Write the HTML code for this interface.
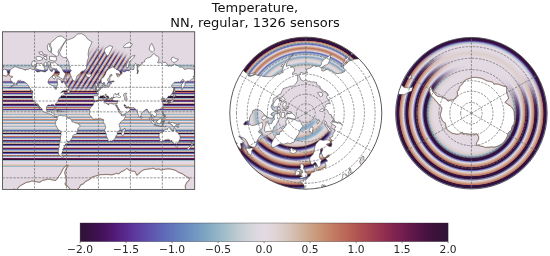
<!DOCTYPE html>
<html><head><meta charset="utf-8"><style>
html,body{margin:0;padding:0;background:#fff;width:550px;height:256px;overflow:hidden}
svg{display:block}
</style></head><body>
<svg width="550" height="256" viewBox="0 0 550 256">
<defs>
<clipPath id="cm"><rect x="2.5" y="31.2" width="192.3" height="158"/></clipPath>
<clipPath id="cn"><circle cx="305.80" cy="113.15" r="76.00"/></clipPath>
<clipPath id="cs"><circle cx="471.40" cy="113.20" r="75.75"/></clipPath>
<linearGradient id="gcb" x1="0" y1="0" x2="1" y2="0"><stop offset="0.0000" stop-color="#301437"/><stop offset="0.0156" stop-color="#33113d"/><stop offset="0.0312" stop-color="#381145"/><stop offset="0.0469" stop-color="#3e1150"/><stop offset="0.0625" stop-color="#45135c"/><stop offset="0.0781" stop-color="#4c1669"/><stop offset="0.0938" stop-color="#511b77"/><stop offset="0.1094" stop-color="#562284"/><stop offset="0.1250" stop-color="#592a8f"/><stop offset="0.1406" stop-color="#5c3499"/><stop offset="0.1562" stop-color="#5d3da1"/><stop offset="0.1719" stop-color="#5e47a7"/><stop offset="0.1875" stop-color="#5e51ad"/><stop offset="0.2031" stop-color="#5f5ab1"/><stop offset="0.2188" stop-color="#5f64b5"/><stop offset="0.2344" stop-color="#606db8"/><stop offset="0.2500" stop-color="#6276ba"/><stop offset="0.2656" stop-color="#647ebc"/><stop offset="0.2812" stop-color="#6887be"/><stop offset="0.2969" stop-color="#6c8fbf"/><stop offset="0.3125" stop-color="#7297c1"/><stop offset="0.3281" stop-color="#799fc2"/><stop offset="0.3438" stop-color="#81a6c3"/><stop offset="0.3594" stop-color="#8aaec5"/><stop offset="0.3750" stop-color="#95b5c7"/><stop offset="0.3906" stop-color="#a0bcc9"/><stop offset="0.4062" stop-color="#acc2cc"/><stop offset="0.4219" stop-color="#b8c9d0"/><stop offset="0.4375" stop-color="#c4ced4"/><stop offset="0.4531" stop-color="#ced3d9"/><stop offset="0.4688" stop-color="#d7d7dd"/><stop offset="0.4844" stop-color="#ded9e1"/><stop offset="0.5000" stop-color="#e2d9e2"/><stop offset="0.5156" stop-color="#e1d8dd"/><stop offset="0.5312" stop-color="#dfd4d6"/><stop offset="0.5469" stop-color="#dccecb"/><stop offset="0.5625" stop-color="#d8c7be"/><stop offset="0.5781" stop-color="#d5bfb1"/><stop offset="0.5938" stop-color="#d1b6a3"/><stop offset="0.6094" stop-color="#cfad96"/><stop offset="0.6250" stop-color="#cca389"/><stop offset="0.6406" stop-color="#ca9a7d"/><stop offset="0.6562" stop-color="#c89073"/><stop offset="0.6719" stop-color="#c5866a"/><stop offset="0.6875" stop-color="#c27c63"/><stop offset="0.7031" stop-color="#bf725d"/><stop offset="0.7188" stop-color="#bb6958"/><stop offset="0.7344" stop-color="#b75f55"/><stop offset="0.7500" stop-color="#b25652"/><stop offset="0.7656" stop-color="#ac4d51"/><stop offset="0.7812" stop-color="#a64550"/><stop offset="0.7969" stop-color="#a03d50"/><stop offset="0.8125" stop-color="#983550"/><stop offset="0.8281" stop-color="#902e50"/><stop offset="0.8438" stop-color="#872750"/><stop offset="0.8594" stop-color="#7e2250"/><stop offset="0.8750" stop-color="#741e4f"/><stop offset="0.8906" stop-color="#691a4d"/><stop offset="0.9062" stop-color="#5f174a"/><stop offset="0.9219" stop-color="#541546"/><stop offset="0.9375" stop-color="#4a1342"/><stop offset="0.9531" stop-color="#41123d"/><stop offset="0.9688" stop-color="#3a113a"/><stop offset="0.9844" stop-color="#341238"/><stop offset="1.0000" stop-color="#2f1436"/></linearGradient>
<linearGradient id="gmP" gradientUnits="userSpaceOnUse" x1="0" y1="31.00" x2="0" y2="190.00"><stop offset="0.0000" stop-color="#e2d9e2"/><stop offset="0.2044" stop-color="#e2d9e2"/><stop offset="0.2201" stop-color="#9ab8c8"/><stop offset="0.2358" stop-color="#dccecb"/><stop offset="0.2484" stop-color="#5f65b5"/><stop offset="0.2597" stop-color="#33113d"/><stop offset="0.2704" stop-color="#bd6e5a"/><stop offset="0.2799" stop-color="#ceac94"/><stop offset="0.2893" stop-color="#e2d9e2"/><stop offset="0.2987" stop-color="#e2d9e2"/><stop offset="0.3113" stop-color="#dccecb"/><stop offset="0.3208" stop-color="#5a2e93"/><stop offset="0.3302" stop-color="#9ab8c8"/><stop offset="0.3343" stop-color="#e2d9e2"/><stop offset="0.3387" stop-color="#e2d9e2"/><stop offset="0.3406" stop-color="#9ab8c8"/><stop offset="0.3450" stop-color="#9ab8c8"/><stop offset="0.3469" stop-color="#dccecb"/><stop offset="0.3513" stop-color="#dccecb"/><stop offset="0.3531" stop-color="#5f65b5"/><stop offset="0.3575" stop-color="#5f65b5"/><stop offset="0.3594" stop-color="#9ab8c8"/><stop offset="0.3638" stop-color="#9ab8c8"/><stop offset="0.3657" stop-color="#e2d9e2"/><stop offset="0.3701" stop-color="#e2d9e2"/><stop offset="0.3720" stop-color="#ceac94"/><stop offset="0.3764" stop-color="#ceac94"/><stop offset="0.3783" stop-color="#33113d"/><stop offset="0.3827" stop-color="#33113d"/><stop offset="0.3846" stop-color="#bd6e5a"/><stop offset="0.3890" stop-color="#bd6e5a"/><stop offset="0.3909" stop-color="#5a2e93"/><stop offset="0.3953" stop-color="#5a2e93"/><stop offset="0.3972" stop-color="#9ab8c8"/><stop offset="0.4016" stop-color="#9ab8c8"/><stop offset="0.4035" stop-color="#dccecb"/><stop offset="0.4079" stop-color="#dccecb"/><stop offset="0.4097" stop-color="#33113d"/><stop offset="0.4142" stop-color="#33113d"/><stop offset="0.4160" stop-color="#33113d"/><stop offset="0.4204" stop-color="#33113d"/><stop offset="0.4223" stop-color="#9ab8c8"/><stop offset="0.4267" stop-color="#9ab8c8"/><stop offset="0.4286" stop-color="#ceac94"/><stop offset="0.4330" stop-color="#ceac94"/><stop offset="0.4349" stop-color="#6b1b4d"/><stop offset="0.4393" stop-color="#6b1b4d"/><stop offset="0.4412" stop-color="#5a2e93"/><stop offset="0.4456" stop-color="#5a2e93"/><stop offset="0.4475" stop-color="#e2d9e2"/><stop offset="0.4519" stop-color="#e2d9e2"/><stop offset="0.4538" stop-color="#ceac94"/><stop offset="0.4582" stop-color="#ceac94"/><stop offset="0.4601" stop-color="#33113d"/><stop offset="0.4645" stop-color="#33113d"/><stop offset="0.4664" stop-color="#5a2e93"/><stop offset="0.4708" stop-color="#5a2e93"/><stop offset="0.4726" stop-color="#9ab8c8"/><stop offset="0.4770" stop-color="#9ab8c8"/><stop offset="0.4789" stop-color="#bd6e5a"/><stop offset="0.4833" stop-color="#bd6e5a"/><stop offset="0.4852" stop-color="#d3b9a8"/><stop offset="0.4896" stop-color="#d3b9a8"/><stop offset="0.4915" stop-color="#5a2e93"/><stop offset="0.4959" stop-color="#5a2e93"/><stop offset="0.4978" stop-color="#9ab8c8"/><stop offset="0.5022" stop-color="#9ab8c8"/><stop offset="0.5041" stop-color="#dccecb"/><stop offset="0.5085" stop-color="#dccecb"/><stop offset="0.5104" stop-color="#e2d9e2"/><stop offset="0.5148" stop-color="#e2d9e2"/><stop offset="0.5167" stop-color="#dccecb"/><stop offset="0.5211" stop-color="#dccecb"/><stop offset="0.5230" stop-color="#9ab8c8"/><stop offset="0.5274" stop-color="#9ab8c8"/><stop offset="0.5292" stop-color="#e2d9e2"/><stop offset="0.5336" stop-color="#e2d9e2"/><stop offset="0.5355" stop-color="#d3b9a8"/><stop offset="0.5399" stop-color="#d3b9a8"/><stop offset="0.5418" stop-color="#81a6c3"/><stop offset="0.5462" stop-color="#81a6c3"/><stop offset="0.5481" stop-color="#e2d9e2"/><stop offset="0.5525" stop-color="#e2d9e2"/><stop offset="0.5544" stop-color="#c68b6e"/><stop offset="0.5588" stop-color="#c68b6e"/><stop offset="0.5607" stop-color="#81a6c3"/><stop offset="0.5651" stop-color="#81a6c3"/><stop offset="0.5670" stop-color="#e2d9e2"/><stop offset="0.5714" stop-color="#e2d9e2"/><stop offset="0.5733" stop-color="#ceac94"/><stop offset="0.5777" stop-color="#ceac94"/><stop offset="0.5796" stop-color="#81a6c3"/><stop offset="0.5840" stop-color="#81a6c3"/><stop offset="0.5858" stop-color="#e2d9e2"/><stop offset="0.5903" stop-color="#e2d9e2"/><stop offset="0.5921" stop-color="#dccecb"/><stop offset="0.5965" stop-color="#dccecb"/><stop offset="0.5984" stop-color="#9ab8c8"/><stop offset="0.6028" stop-color="#9ab8c8"/><stop offset="0.6047" stop-color="#e2d9e2"/><stop offset="0.6091" stop-color="#e2d9e2"/><stop offset="0.6110" stop-color="#dccecb"/><stop offset="0.6154" stop-color="#dccecb"/><stop offset="0.6173" stop-color="#9ab8c8"/><stop offset="0.6217" stop-color="#9ab8c8"/><stop offset="0.6236" stop-color="#5f65b5"/><stop offset="0.6280" stop-color="#5f65b5"/><stop offset="0.6299" stop-color="#9ab8c8"/><stop offset="0.6343" stop-color="#9ab8c8"/><stop offset="0.6362" stop-color="#ceac94"/><stop offset="0.6406" stop-color="#ceac94"/><stop offset="0.6425" stop-color="#33113d"/><stop offset="0.6469" stop-color="#33113d"/><stop offset="0.6487" stop-color="#9ab8c8"/><stop offset="0.6531" stop-color="#9ab8c8"/><stop offset="0.6550" stop-color="#e2d9e2"/><stop offset="0.6594" stop-color="#e2d9e2"/><stop offset="0.6613" stop-color="#bd6e5a"/><stop offset="0.6657" stop-color="#bd6e5a"/><stop offset="0.6676" stop-color="#5f65b5"/><stop offset="0.6720" stop-color="#5f65b5"/><stop offset="0.6739" stop-color="#9ab8c8"/><stop offset="0.6783" stop-color="#9ab8c8"/><stop offset="0.6802" stop-color="#dccecb"/><stop offset="0.6846" stop-color="#dccecb"/><stop offset="0.6865" stop-color="#6b1b4d"/><stop offset="0.6909" stop-color="#6b1b4d"/><stop offset="0.6928" stop-color="#5f65b5"/><stop offset="0.6972" stop-color="#5f65b5"/><stop offset="0.6991" stop-color="#9ab8c8"/><stop offset="0.7035" stop-color="#9ab8c8"/><stop offset="0.7053" stop-color="#ceac94"/><stop offset="0.7097" stop-color="#ceac94"/><stop offset="0.7116" stop-color="#33113d"/><stop offset="0.7160" stop-color="#33113d"/><stop offset="0.7179" stop-color="#5f65b5"/><stop offset="0.7223" stop-color="#5f65b5"/><stop offset="0.7242" stop-color="#e2d9e2"/><stop offset="0.7286" stop-color="#e2d9e2"/><stop offset="0.7305" stop-color="#ceac94"/><stop offset="0.7349" stop-color="#ceac94"/><stop offset="0.7368" stop-color="#6b1b4d"/><stop offset="0.7412" stop-color="#6b1b4d"/><stop offset="0.7431" stop-color="#5f65b5"/><stop offset="0.7475" stop-color="#5f65b5"/><stop offset="0.7494" stop-color="#9ab8c8"/><stop offset="0.7538" stop-color="#9ab8c8"/><stop offset="0.7557" stop-color="#ceac94"/><stop offset="0.7601" stop-color="#ceac94"/><stop offset="0.7619" stop-color="#33113d"/><stop offset="0.7664" stop-color="#33113d"/><stop offset="0.7682" stop-color="#5f65b5"/><stop offset="0.7726" stop-color="#5f65b5"/><stop offset="0.7745" stop-color="#e2d9e2"/><stop offset="0.7789" stop-color="#e2d9e2"/><stop offset="0.7808" stop-color="#bd6e5a"/><stop offset="0.7852" stop-color="#bd6e5a"/><stop offset="0.7871" stop-color="#81a6c3"/><stop offset="0.7915" stop-color="#81a6c3"/><stop offset="0.7934" stop-color="#e2d9e2"/><stop offset="0.7978" stop-color="#e2d9e2"/><stop offset="0.7997" stop-color="#6b1b4d"/><stop offset="0.8041" stop-color="#6b1b4d"/><stop offset="0.8060" stop-color="#33113d"/><stop offset="0.8104" stop-color="#33113d"/><stop offset="0.8123" stop-color="#9ab8c8"/><stop offset="0.8167" stop-color="#9ab8c8"/><stop offset="0.8186" stop-color="#e2d9e2"/><stop offset="0.8230" stop-color="#e2d9e2"/><stop offset="0.8248" stop-color="#e2d9e2"/><stop offset="0.8292" stop-color="#e2d9e2"/><stop offset="0.8311" stop-color="#e2d9e2"/><stop offset="0.8355" stop-color="#e2d9e2"/><stop offset="0.8374" stop-color="#dccecb"/><stop offset="0.8418" stop-color="#dccecb"/><stop offset="0.8437" stop-color="#d3b9a8"/><stop offset="0.8481" stop-color="#d3b9a8"/><stop offset="0.8500" stop-color="#9ab8c8"/><stop offset="0.8544" stop-color="#9ab8c8"/><stop offset="0.8563" stop-color="#e2d9e2"/><stop offset="0.8607" stop-color="#e2d9e2"/><stop offset="0.8679" stop-color="#e2d9e2"/><stop offset="1.0000" stop-color="#e2d9e2"/></linearGradient>
<linearGradient id="gmI" gradientUnits="userSpaceOnUse" x1="0" y1="31.00" x2="0" y2="190.00"><stop offset="0.0000" stop-color="#e2d9e2"/><stop offset="0.2044" stop-color="#e2d9e2"/><stop offset="0.2201" stop-color="#9ab8c8"/><stop offset="0.2358" stop-color="#dccecb"/><stop offset="0.2484" stop-color="#5f65b5"/><stop offset="0.2597" stop-color="#33113d"/><stop offset="0.2704" stop-color="#bd6e5a"/><stop offset="0.2799" stop-color="#ceac94"/><stop offset="0.2893" stop-color="#e2d9e2"/><stop offset="0.2987" stop-color="#e2d9e2"/><stop offset="0.3113" stop-color="#dccecb"/><stop offset="0.3208" stop-color="#5a2e93"/><stop offset="0.3302" stop-color="#9ab8c8"/><stop offset="0.3343" stop-color="#e2d9e2"/><stop offset="0.3387" stop-color="#e2d9e2"/><stop offset="0.3406" stop-color="#9ab8c8"/><stop offset="0.3450" stop-color="#9ab8c8"/><stop offset="0.3469" stop-color="#dccecb"/><stop offset="0.3513" stop-color="#dccecb"/><stop offset="0.3531" stop-color="#5f65b5"/><stop offset="0.3575" stop-color="#5f65b5"/><stop offset="0.3594" stop-color="#9ab8c8"/><stop offset="0.3638" stop-color="#9ab8c8"/><stop offset="0.3657" stop-color="#e2d9e2"/><stop offset="0.3701" stop-color="#e2d9e2"/><stop offset="0.3720" stop-color="#ceac94"/><stop offset="0.3764" stop-color="#ceac94"/><stop offset="0.3783" stop-color="#33113d"/><stop offset="0.3827" stop-color="#33113d"/><stop offset="0.3846" stop-color="#bd6e5a"/><stop offset="0.3890" stop-color="#bd6e5a"/><stop offset="0.3909" stop-color="#5a2e93"/><stop offset="0.3953" stop-color="#5a2e93"/><stop offset="0.3972" stop-color="#9ab8c8"/><stop offset="0.4016" stop-color="#9ab8c8"/><stop offset="0.4035" stop-color="#dccecb"/><stop offset="0.4079" stop-color="#dccecb"/><stop offset="0.4097" stop-color="#33113d"/><stop offset="0.4142" stop-color="#33113d"/><stop offset="0.4160" stop-color="#33113d"/><stop offset="0.4204" stop-color="#33113d"/><stop offset="0.4223" stop-color="#9ab8c8"/><stop offset="0.4267" stop-color="#9ab8c8"/><stop offset="0.4286" stop-color="#ceac94"/><stop offset="0.4330" stop-color="#ceac94"/><stop offset="0.4349" stop-color="#6b1b4d"/><stop offset="0.4393" stop-color="#6b1b4d"/><stop offset="0.4412" stop-color="#5a2e93"/><stop offset="0.4456" stop-color="#5a2e93"/><stop offset="0.4475" stop-color="#e2d9e2"/><stop offset="0.4519" stop-color="#e2d9e2"/><stop offset="0.4538" stop-color="#ceac94"/><stop offset="0.4582" stop-color="#ceac94"/><stop offset="0.4601" stop-color="#33113d"/><stop offset="0.4645" stop-color="#33113d"/><stop offset="0.4664" stop-color="#5a2e93"/><stop offset="0.4708" stop-color="#5a2e93"/><stop offset="0.4726" stop-color="#9ab8c8"/><stop offset="0.4770" stop-color="#9ab8c8"/><stop offset="0.4789" stop-color="#bd6e5a"/><stop offset="0.4833" stop-color="#bd6e5a"/><stop offset="0.4852" stop-color="#d3b9a8"/><stop offset="0.4896" stop-color="#d3b9a8"/><stop offset="0.4915" stop-color="#5a2e93"/><stop offset="0.4959" stop-color="#5a2e93"/><stop offset="0.4978" stop-color="#9ab8c8"/><stop offset="0.5022" stop-color="#9ab8c8"/><stop offset="0.5041" stop-color="#dccecb"/><stop offset="0.5085" stop-color="#dccecb"/><stop offset="0.5104" stop-color="#e2d9e2"/><stop offset="0.5148" stop-color="#e2d9e2"/><stop offset="0.5167" stop-color="#dccecb"/><stop offset="0.5211" stop-color="#dccecb"/><stop offset="0.5230" stop-color="#9ab8c8"/><stop offset="0.5274" stop-color="#9ab8c8"/><stop offset="0.5292" stop-color="#e2d9e2"/><stop offset="0.5336" stop-color="#e2d9e2"/><stop offset="0.5355" stop-color="#d3b9a8"/><stop offset="0.5399" stop-color="#d3b9a8"/><stop offset="0.5418" stop-color="#81a6c3"/><stop offset="0.5462" stop-color="#81a6c3"/><stop offset="0.5481" stop-color="#e2d9e2"/><stop offset="0.5525" stop-color="#e2d9e2"/><stop offset="0.5544" stop-color="#c68b6e"/><stop offset="0.5588" stop-color="#c68b6e"/><stop offset="0.5607" stop-color="#81a6c3"/><stop offset="0.5651" stop-color="#81a6c3"/><stop offset="0.5670" stop-color="#e2d9e2"/><stop offset="0.5714" stop-color="#e2d9e2"/><stop offset="0.5733" stop-color="#ceac94"/><stop offset="0.5777" stop-color="#ceac94"/><stop offset="0.5796" stop-color="#81a6c3"/><stop offset="0.5840" stop-color="#81a6c3"/><stop offset="0.5858" stop-color="#e2d9e2"/><stop offset="0.5903" stop-color="#e2d9e2"/><stop offset="0.5921" stop-color="#dccecb"/><stop offset="0.5965" stop-color="#dccecb"/><stop offset="0.5984" stop-color="#9ab8c8"/><stop offset="0.6028" stop-color="#9ab8c8"/><stop offset="0.6047" stop-color="#e2d9e2"/><stop offset="0.6091" stop-color="#e2d9e2"/><stop offset="0.6110" stop-color="#dccecb"/><stop offset="0.6154" stop-color="#dccecb"/><stop offset="0.6173" stop-color="#9ab8c8"/><stop offset="0.6217" stop-color="#9ab8c8"/><stop offset="0.6236" stop-color="#5f65b5"/><stop offset="0.6280" stop-color="#5f65b5"/><stop offset="0.6299" stop-color="#9ab8c8"/><stop offset="0.6343" stop-color="#9ab8c8"/><stop offset="0.6362" stop-color="#ceac94"/><stop offset="0.6406" stop-color="#ceac94"/><stop offset="0.6425" stop-color="#33113d"/><stop offset="0.6469" stop-color="#33113d"/><stop offset="0.6487" stop-color="#9ab8c8"/><stop offset="0.6531" stop-color="#9ab8c8"/><stop offset="0.6550" stop-color="#e2d9e2"/><stop offset="0.6594" stop-color="#e2d9e2"/><stop offset="0.6613" stop-color="#bd6e5a"/><stop offset="0.6657" stop-color="#bd6e5a"/><stop offset="0.6676" stop-color="#5f65b5"/><stop offset="0.6720" stop-color="#5f65b5"/><stop offset="0.6739" stop-color="#9ab8c8"/><stop offset="0.6783" stop-color="#9ab8c8"/><stop offset="0.6802" stop-color="#dccecb"/><stop offset="0.6846" stop-color="#dccecb"/><stop offset="0.6865" stop-color="#6b1b4d"/><stop offset="0.6909" stop-color="#6b1b4d"/><stop offset="0.6928" stop-color="#5f65b5"/><stop offset="0.6972" stop-color="#5f65b5"/><stop offset="0.6991" stop-color="#9ab8c8"/><stop offset="0.7035" stop-color="#9ab8c8"/><stop offset="0.7053" stop-color="#ceac94"/><stop offset="0.7097" stop-color="#ceac94"/><stop offset="0.7116" stop-color="#33113d"/><stop offset="0.7160" stop-color="#33113d"/><stop offset="0.7179" stop-color="#5f65b5"/><stop offset="0.7223" stop-color="#5f65b5"/><stop offset="0.7242" stop-color="#e2d9e2"/><stop offset="0.7286" stop-color="#e2d9e2"/><stop offset="0.7305" stop-color="#ceac94"/><stop offset="0.7349" stop-color="#ceac94"/><stop offset="0.7368" stop-color="#6b1b4d"/><stop offset="0.7412" stop-color="#6b1b4d"/><stop offset="0.7431" stop-color="#5f65b5"/><stop offset="0.7475" stop-color="#5f65b5"/><stop offset="0.7494" stop-color="#9ab8c8"/><stop offset="0.7538" stop-color="#9ab8c8"/><stop offset="0.7557" stop-color="#ceac94"/><stop offset="0.7601" stop-color="#ceac94"/><stop offset="0.7619" stop-color="#33113d"/><stop offset="0.7664" stop-color="#33113d"/><stop offset="0.7682" stop-color="#5f65b5"/><stop offset="0.7726" stop-color="#5f65b5"/><stop offset="0.7745" stop-color="#e2d9e2"/><stop offset="0.7789" stop-color="#e2d9e2"/><stop offset="0.7808" stop-color="#bd6e5a"/><stop offset="0.7852" stop-color="#bd6e5a"/><stop offset="0.7871" stop-color="#81a6c3"/><stop offset="0.7915" stop-color="#81a6c3"/><stop offset="0.7934" stop-color="#e2d9e2"/><stop offset="0.7978" stop-color="#e2d9e2"/><stop offset="0.7997" stop-color="#6b1b4d"/><stop offset="0.8041" stop-color="#6b1b4d"/><stop offset="0.8060" stop-color="#33113d"/><stop offset="0.8104" stop-color="#33113d"/><stop offset="0.8123" stop-color="#9ab8c8"/><stop offset="0.8167" stop-color="#9ab8c8"/><stop offset="0.8186" stop-color="#e2d9e2"/><stop offset="0.8230" stop-color="#e2d9e2"/><stop offset="0.8248" stop-color="#e2d9e2"/><stop offset="0.8292" stop-color="#e2d9e2"/><stop offset="0.8311" stop-color="#e2d9e2"/><stop offset="0.8355" stop-color="#e2d9e2"/><stop offset="0.8374" stop-color="#dccecb"/><stop offset="0.8418" stop-color="#dccecb"/><stop offset="0.8437" stop-color="#d3b9a8"/><stop offset="0.8481" stop-color="#d3b9a8"/><stop offset="0.8500" stop-color="#9ab8c8"/><stop offset="0.8544" stop-color="#9ab8c8"/><stop offset="0.8563" stop-color="#e2d9e2"/><stop offset="0.8607" stop-color="#e2d9e2"/><stop offset="0.8679" stop-color="#e2d9e2"/><stop offset="1.0000" stop-color="#e2d9e2"/></linearGradient>
<linearGradient id="gna" gradientUnits="userSpaceOnUse" x1="0" y1="0" x2="4.0" y2="0" spreadMethod="repeat" gradientTransform="rotate(32)"><stop offset="0.0000" stop-color="#33113d"/><stop offset="0.0800" stop-color="#33113d"/><stop offset="0.2500" stop-color="#5f65b5"/><stop offset="0.5000" stop-color="#e2d9e2"/><stop offset="0.7200" stop-color="#ceac94"/><stop offset="0.8800" stop-color="#bd6e5a"/><stop offset="1.0000" stop-color="#341238"/></linearGradient>
<filter id="fb3" x="-20%" y="-20%" width="140%" height="140%"><feGaussianBlur stdDeviation="2.5"/></filter>
<mask id="mna" maskUnits="userSpaceOnUse" x="0" y="0" width="550" height="256"><path d="M67.6 89.1L74.5 89.1L82.5 88.6L90.5 88.2L95.8 87.8L98.4 86.4L101.1 83.5L106.4 74.4L114.4 70.2L122.4 70.2L127.7 67.1L127.7 57.6L119.7 54.1L109.1 51.6L98.4 48.8L90.5 54.1L87.3 63.6L84.1 71.6L79.8 75.6L74.5 79.2L69.2 76.9L65.4 74.4L63.3 81.4L65.4 86.4Z" fill="#fff" filter="url(#fb3)"/></mask>
<radialGradient id="gnP" gradientUnits="userSpaceOnUse" cx="305.80" cy="113.15" r="78.00" fx="305.80" fy="113.15"><stop offset="0.0000" stop-color="#e2d9e2"/><stop offset="0.5641" stop-color="#e2d9e2"/><stop offset="0.6026" stop-color="#dccecb"/><stop offset="0.6346" stop-color="#9ab8c8"/><stop offset="0.6603" stop-color="#e2d9e2"/><stop offset="0.6923" stop-color="#dccecb"/><stop offset="0.7179" stop-color="#81a6c3"/><stop offset="0.7436" stop-color="#e2d9e2"/><stop offset="0.7628" stop-color="#9ab8c8"/><stop offset="0.7821" stop-color="#5f65b5"/><stop offset="0.7987" stop-color="#e2d9e2"/><stop offset="0.8141" stop-color="#ceac94"/><stop offset="0.8333" stop-color="#bd6e5a"/><stop offset="0.8500" stop-color="#ceac94"/><stop offset="0.8654" stop-color="#e2d9e2"/><stop offset="0.8846" stop-color="#5f65b5"/><stop offset="0.9000" stop-color="#9ab8c8"/><stop offset="0.9128" stop-color="#ceac94"/><stop offset="0.9256" stop-color="#bd6e5a"/><stop offset="0.9321" stop-color="#33113d"/><stop offset="0.9397" stop-color="#33113d"/><stop offset="0.9551" stop-color="#33113d"/><stop offset="0.9628" stop-color="#33113d"/><stop offset="0.9718" stop-color="#6b1b4d"/><stop offset="0.9872" stop-color="#bd6e5a"/></radialGradient>
<radialGradient id="gnA" gradientUnits="userSpaceOnUse" cx="295.80" cy="105.15" r="90.00" fx="295.80" fy="105.15"><stop offset="0.0000" stop-color="#e2d9e2"/><stop offset="0.1889" stop-color="#e2d9e2"/><stop offset="0.2278" stop-color="#dccecb"/><stop offset="0.2667" stop-color="#81a6c3"/><stop offset="0.2878" stop-color="#9ab8c8"/><stop offset="0.3057" stop-color="#e2d9e2"/><stop offset="0.3300" stop-color="#dccecb"/><stop offset="0.3511" stop-color="#d3b9a8"/><stop offset="0.3722" stop-color="#81a6c3"/><stop offset="0.3933" stop-color="#9ab8c8"/><stop offset="0.4113" stop-color="#e2d9e2"/><stop offset="0.4356" stop-color="#dccecb"/><stop offset="0.4567" stop-color="#d3b9a8"/><stop offset="0.4722" stop-color="#33113d"/><stop offset="0.4833" stop-color="#33113d"/><stop offset="0.4989" stop-color="#5f65b5"/><stop offset="0.5168" stop-color="#e2d9e2"/><stop offset="0.5411" stop-color="#ceac94"/><stop offset="0.5622" stop-color="#bd6e5a"/><stop offset="0.5778" stop-color="#33113d"/><stop offset="0.5889" stop-color="#33113d"/><stop offset="0.6044" stop-color="#5f65b5"/><stop offset="0.6224" stop-color="#e2d9e2"/><stop offset="0.6467" stop-color="#ceac94"/><stop offset="0.6678" stop-color="#bd6e5a"/><stop offset="0.6833" stop-color="#33113d"/><stop offset="0.6944" stop-color="#33113d"/><stop offset="0.7100" stop-color="#5f65b5"/><stop offset="0.7279" stop-color="#e2d9e2"/><stop offset="0.7522" stop-color="#ceac94"/><stop offset="0.7733" stop-color="#bd6e5a"/><stop offset="0.7889" stop-color="#33113d"/><stop offset="0.8000" stop-color="#33113d"/><stop offset="0.8156" stop-color="#5f65b5"/><stop offset="0.8335" stop-color="#e2d9e2"/><stop offset="0.8578" stop-color="#ceac94"/><stop offset="0.8789" stop-color="#bd6e5a"/><stop offset="0.8944" stop-color="#33113d"/><stop offset="0.9056" stop-color="#33113d"/><stop offset="0.9211" stop-color="#5f65b5"/><stop offset="0.9391" stop-color="#e2d9e2"/><stop offset="0.9633" stop-color="#ceac94"/><stop offset="0.9844" stop-color="#bd6e5a"/><stop offset="1.0000" stop-color="#33113d"/><stop offset="1.0000" stop-color="#33113d"/></radialGradient>
<mask id="mnA" maskUnits="userSpaceOnUse" x="0" y="0" width="550" height="256"><path d="M305.80 113.15L206.21 170.65L209.36 175.78L212.77 180.74L216.44 185.52L220.34 190.09L224.49 194.46L228.86 198.61L233.43 202.51L238.21 206.18L243.17 209.59L248.30 212.74L253.60 215.61L259.03 218.20L264.59 220.50L270.27 222.51L276.04 224.22L281.89 225.63L287.81 226.73L293.78 227.51L299.78 227.98L305.80 228.14L311.82 227.98L317.82 227.51L323.79 226.73L329.71 225.63L335.56 224.22L341.33 222.51L347.01 220.50L352.57 218.20L358.00 215.61L363.30 212.74L368.43 209.59L373.39 206.18L378.17 202.51L382.74 198.61L387.11 194.46L391.26 190.09L395.16 185.52L396.41 183.95Z" fill="#fff" filter="url(#fb3)"/></mask>
<radialGradient id="gnL" gradientUnits="userSpaceOnUse" cx="305.80" cy="113.15" r="78.00" fx="305.80" fy="113.15"><stop offset="0.0000" stop-color="#e2d9e2"/><stop offset="0.3846" stop-color="#e2d9e2"/><stop offset="0.4359" stop-color="#9ab8c8"/><stop offset="0.4872" stop-color="#e2d9e2"/><stop offset="0.5385" stop-color="#dccecb"/><stop offset="0.5897" stop-color="#e2d9e2"/><stop offset="0.6410" stop-color="#9ab8c8"/><stop offset="0.6795" stop-color="#dccecb"/><stop offset="0.7179" stop-color="#e2d9e2"/><stop offset="0.7564" stop-color="#5f65b5"/><stop offset="0.7833" stop-color="#33113d"/><stop offset="0.7936" stop-color="#33113d"/><stop offset="0.8141" stop-color="#bd6e5a"/><stop offset="0.8397" stop-color="#ceac94"/><stop offset="0.8654" stop-color="#e2d9e2"/><stop offset="0.8910" stop-color="#5f65b5"/><stop offset="0.9115" stop-color="#33113d"/><stop offset="0.9218" stop-color="#33113d"/><stop offset="0.9423" stop-color="#6b1b4d"/><stop offset="0.9679" stop-color="#bd6e5a"/><stop offset="0.9872" stop-color="#ceac94"/></radialGradient>
<mask id="mnL" maskUnits="userSpaceOnUse" x="0" y="0" width="550" height="256"><path d="M305.80 113.15L194.73 83.39L193.32 89.24L192.22 95.16L191.44 101.13L190.97 107.13L190.81 113.15L190.97 119.17L191.44 125.17L192.22 131.14L193.32 137.06L194.73 142.91L196.44 148.68L198.45 154.36L200.75 159.92L203.34 165.35L204.27 167.14Z" fill="#fff" filter="url(#fb3)"/></mask>
<radialGradient id="gsB" gradientUnits="userSpaceOnUse" cx="471.40" cy="113.20" r="77.00" fx="471.40" fy="113.20"><stop offset="0.0000" stop-color="#e2d9e2"/><stop offset="0.4935" stop-color="#e2d9e2"/><stop offset="0.5325" stop-color="#dccecb"/><stop offset="0.5649" stop-color="#9ab8c8"/><stop offset="0.5896" stop-color="#33113d"/><stop offset="0.6182" stop-color="#33113d"/><stop offset="0.6273" stop-color="#5f65b5"/><stop offset="0.6471" stop-color="#e2d9e2"/><stop offset="0.6740" stop-color="#ceac94"/><stop offset="0.6974" stop-color="#bd6e5a"/><stop offset="0.7065" stop-color="#33113d"/><stop offset="0.7351" stop-color="#33113d"/><stop offset="0.7442" stop-color="#5f65b5"/><stop offset="0.7640" stop-color="#e2d9e2"/><stop offset="0.7909" stop-color="#ceac94"/><stop offset="0.8143" stop-color="#bd6e5a"/><stop offset="0.8234" stop-color="#33113d"/><stop offset="0.8519" stop-color="#33113d"/><stop offset="0.8610" stop-color="#5f65b5"/><stop offset="0.8809" stop-color="#e2d9e2"/><stop offset="0.9078" stop-color="#ceac94"/><stop offset="0.9312" stop-color="#bd6e5a"/><stop offset="0.9403" stop-color="#33113d"/><stop offset="0.9688" stop-color="#33113d"/><stop offset="0.9779" stop-color="#5f65b5"/><stop offset="0.9978" stop-color="#e2d9e2"/><stop offset="1.0000" stop-color="#ceac94"/><stop offset="1.0000" stop-color="#bd6e5a"/><stop offset="1.0000" stop-color="#33113d"/><stop offset="1.0000" stop-color="#33113d"/></radialGradient>
<radialGradient id="gsP" gradientUnits="userSpaceOnUse" cx="471.40" cy="113.20" r="77.00" fx="471.40" fy="113.20"><stop offset="0.0000" stop-color="#e2d9e2"/><stop offset="0.7273" stop-color="#e2d9e2"/><stop offset="0.7792" stop-color="#dccecb"/><stop offset="0.8312" stop-color="#e2d9e2"/><stop offset="0.8961" stop-color="#e2d9e2"/><stop offset="0.9195" stop-color="#9ab8c8"/><stop offset="0.9377" stop-color="#5a2e93"/><stop offset="0.9494" stop-color="#33113d"/><stop offset="0.9571" stop-color="#33113d"/><stop offset="0.9727" stop-color="#33113d"/><stop offset="0.9805" stop-color="#33113d"/><stop offset="0.9909" stop-color="#6b1b4d"/></radialGradient>
<filter id="fb8" x="-30%" y="-30%" width="160%" height="160%"><feGaussianBlur stdDeviation="11"/></filter>
<mask id="msP" maskUnits="userSpaceOnUse" x="0" y="0" width="550" height="256"><path d="M471.40 113.20L395.32 22.53L400.17 18.68L405.22 15.08L410.44 11.75L415.83 8.70L421.38 5.93L427.06 3.46L432.87 1.29L438.78 -0.57L444.78 -2.12L450.85 -3.36L456.98 -4.27L463.14 -4.87L469.33 -5.14L475.53 -5.08L481.72 -4.71L487.87 -4.00L493.98 -2.98L500.03 -1.64L506.00 0.01L511.88 1.98L517.65 4.25L523.28 6.82L528.78 9.68L534.12 12.83L539.29 16.25L544.27 19.93L549.05 23.87L553.62 28.06L557.96 32.48L562.07 37.12L565.92 41.97L569.52 47.02L572.85 52.24L575.90 57.63L578.67 63.18L581.14 68.86L583.31 74.67L583.96 76.63Z" fill="#fff" filter="url(#fb8)"/></mask>
</defs>
<rect x="2.5" y="31.2" width="192.3" height="158" fill="url(#gmP)"/>
<rect x="109.10" y="31.2" width="85.70" height="158" fill="url(#gmI)"/>
<rect x="2.5" y="31.2" width="192.3" height="158" fill="url(#gna)" mask="url(#mna)" opacity="0.85"/>
<g clip-path="url(#cm)">
<path d="M2.6 191.1L7.9 191.4L11.7 190.8L14.3 189.1L15.9 191.1L18.6 187.4L20.7 185.6L23.9 183.9L26.6 182.4L29.2 182.1L31.9 181.1L34.5 181.5L37.2 182.1L39.9 182.4L42.5 180.5L45.2 180.0L47.9 179.2L50.5 179.6L53.2 180.3L55.9 180.5L57.4 178.7L59.0 176.1L60.4 174.2L62.0 171.3L62.8 169.5L63.8 167.8L65.2 166.7L67.0 165.4L68.1 165.6L67.3 166.7L66.2 168.2L65.5 169.8L64.9 171.3L64.6 173.3L65.3 175.3L65.9 177.8L66.0 180.5L65.7 182.4L64.9 183.5L65.4 185.2L67.0 185.6L68.6 187.9L70.8 189.8L74.0 190.1L77.1 189.8L79.3 187.9L80.9 184.7L83.5 184.1L85.1 181.9L87.8 180.5L89.9 179.4L92.1 177.3L94.2 176.5L96.3 176.0L98.4 175.2L101.1 174.7L103.8 174.7L106.4 174.5L109.1 174.7L111.8 175.0L114.4 174.2L116.0 173.6L117.6 173.6L118.7 174.2L119.7 173.0L121.3 171.9L123.5 170.9L125.1 170.0L126.7 168.6L127.7 169.2L129.3 170.5L130.9 171.0L133.1 171.3L134.7 171.4L135.5 172.7L136.0 173.9L136.7 175.3L137.6 175.2L138.4 173.8L139.5 173.5L140.5 172.0L141.8 171.1L143.7 170.0L145.3 169.5L146.9 169.5L148.5 169.1L150.1 169.1L151.7 168.6L153.3 168.3L155.4 169.4L157.0 169.4L158.6 169.0L160.2 169.9L161.8 170.2L163.4 169.6L165.5 169.2L167.7 169.1L169.8 169.1L171.4 169.4L173.0 169.8L174.6 170.2L176.2 170.9L177.8 172.1L179.4 172.7L181.0 173.5L182.6 173.9L183.9 175.3L185.0 175.8L186.3 176.6L187.9 177.5L189.0 177.8L189.2 179.2L188.7 180.5L187.9 181.1L187.1 181.9L186.3 183.1L185.5 184.7L185.1 186.7L185.5 188.8L186.3 190.1L187.1 191.1L189.0 191.1L191.6 191.6L194.3 191.1" fill="none" stroke="#c8886c" stroke-width="1.5" stroke-linejoin="round" stroke-opacity="0.7"/>
<path d="M9.0 74.9L10.1 70.3L12.2 68.3L15.0 66.6L17.5 67.4L18.6 68.0L21.2 68.5L23.4 69.3L25.5 70.2L26.6 69.4L28.2 69.3L30.3 68.3L32.4 69.6L34.5 69.7L37.2 71.9L39.9 71.6L40.9 70.9L43.1 71.6L45.2 71.9L46.3 70.9L47.6 70.2L48.4 66.2L49.5 68.7L50.5 70.9L52.1 71.6L53.2 69.4L54.8 69.4L55.1 71.6L53.7 74.4L52.1 76.3L50.5 77.5L48.9 79.2L48.1 81.4L48.1 82.5L49.2 84.3L50.5 84.5L51.6 85.4L53.2 86.1L54.6 86.4L54.8 88.4L55.9 89.7L56.4 89.1L56.4 86.8L57.4 85.4L57.6 83.5L57.2 80.9L56.9 78.9L58.5 78.9L60.1 79.8L61.2 80.3L61.4 82.5L62.2 83.0L63.0 82.5L63.8 81.1L64.6 83.0L65.4 84.5L66.2 85.9L67.8 87.3L68.6 88.6L67.8 89.5L66.5 90.6L64.4 90.6L63.0 90.8L62.0 91.4L60.6 93.2L61.7 92.4L63.8 91.7L64.1 92.5L63.8 93.6L65.7 94.1L66.0 94.6L64.6 95.0L63.5 95.8L63.3 94.9L62.5 95.1L61.2 95.8L60.8 96.4L61.1 96.9L60.6 97.3L59.2 97.8L59.0 98.3L58.6 99.1L58.4 99.7L58.0 100.4L58.2 101.5L57.7 101.9L56.9 102.5L56.3 103.0L55.3 103.9L55.2 104.8L55.6 105.9L55.9 107.0L55.6 107.7L55.2 107.7L54.9 107.0L54.4 106.1L54.4 105.5L53.7 104.8L53.0 105.0L52.4 104.6L51.1 104.7L50.9 105.3L50.3 105.4L49.5 105.1L48.4 105.1L47.6 105.6L46.7 106.3L46.6 107.4L46.4 108.4L46.4 109.6L46.7 110.4L47.2 111.2L48.1 111.7L49.5 111.5L50.0 111.3L50.3 110.4L50.4 110.2L51.3 109.9L52.1 109.9L51.9 110.7L51.6 111.6L51.3 112.1L51.5 113.1L52.7 113.0L53.7 113.1L54.1 113.5L54.0 114.6L53.9 115.7L54.3 116.2L55.1 116.9L55.9 116.6L56.4 116.5L57.0 116.9L57.3 117.3L57.0 117.7L56.7 117.3L56.1 117.1L55.7 117.6L55.1 117.3L54.3 117.2L53.3 116.4L52.8 116.0L52.8 115.6L52.0 114.7L51.1 114.4L50.0 114.1L49.2 113.7L48.4 113.0L47.1 113.1L46.0 112.8L44.7 112.2L43.3 111.7L42.3 110.7L42.4 109.9L42.2 109.2L41.2 108.1L40.4 107.4L39.4 106.2L38.5 105.1L38.0 104.2L37.3 103.7L37.6 104.8L38.4 105.8L38.8 106.8L39.6 108.3L40.1 109.0L39.8 109.0L38.9 108.1L38.7 107.3L37.7 106.2L37.4 105.3L36.7 104.5L36.1 103.3L35.5 102.5L35.1 102.3L34.2 101.9L33.6 100.7L33.2 100.0L33.0 99.7L32.5 98.7L32.2 98.0L32.3 96.9L32.2 95.8L32.4 93.8L32.0 92.1L33.0 92.2L32.8 91.3L31.8 90.5L30.6 89.8L30.3 88.6L29.2 87.0L28.7 85.9L27.6 84.5L26.3 83.0L25.2 82.5L23.9 81.6L22.6 81.3L21.5 81.3L20.4 80.3L19.4 80.8L18.6 80.1L17.6 81.1L17.6 82.3L16.7 82.7L16.4 83.7L15.4 84.0L14.0 85.3L13.0 85.9L11.9 86.4L10.9 86.8L12.2 85.6L13.2 85.1L14.0 84.0L14.7 82.8L13.8 82.9L12.3 82.8L12.1 81.5L10.9 81.1L10.4 80.1L10.3 78.7L10.9 77.8L12.2 77.5L12.7 76.3L11.4 76.1L9.9 76.1L9.0 74.9ZM59.6 52.4L62.2 46.7L64.9 42.3L67.6 40.0L71.8 38.5L74.5 37.2L77.1 34.1L81.4 33.6L85.1 35.5L87.8 39.3L92.1 41.9L90.5 45.7L88.9 48.8L88.1 54.1L88.6 57.6L87.3 60.8L87.0 63.6L86.5 66.2L86.7 68.2L85.1 69.4L84.1 70.9L81.9 71.3L80.9 72.3L79.8 74.0L78.2 74.9L77.1 75.6L76.5 77.5L75.9 79.2L75.6 80.6L75.0 81.4L74.2 80.9L72.9 80.3L72.1 78.7L71.6 77.5L70.8 75.6L70.0 73.7L70.0 72.3L71.3 70.5L70.2 69.4L69.4 67.9L70.5 67.1L69.2 65.4L68.9 62.7L68.1 60.8L67.3 58.7L66.0 57.6L63.3 57.4L61.7 56.5L60.4 54.6ZM85.7 75.0L86.5 73.8L88.9 74.1L90.5 73.7L91.2 75.3L90.6 76.5L88.9 77.5L87.3 77.1L86.4 77.0L86.7 76.3ZM57.3 117.2L57.7 116.8L58.2 116.0L58.8 115.7L59.8 115.3L60.2 114.9L60.5 115.5L61.2 115.4L62.0 115.9L63.3 115.9L64.4 115.9L65.4 115.9L66.0 116.5L66.5 117.1L67.3 117.9L68.1 118.4L69.2 118.5L70.2 118.7L71.0 119.3L71.6 120.3L71.8 121.1L72.1 121.8L72.9 122.0L74.0 122.1L74.8 122.9L76.1 123.1L77.1 123.2L77.9 123.6L78.7 124.2L79.7 124.4L79.9 125.6L79.8 126.4L79.0 127.2L78.5 128.0L77.7 128.9L77.7 130.8L77.4 131.6L76.9 132.8L76.6 133.6L76.1 134.2L74.8 134.4L73.7 134.8L72.9 135.7L72.6 137.1L72.1 138.1L71.4 139.0L70.7 139.9L70.0 140.9L69.2 141.5L68.4 141.4L67.4 140.9L67.5 141.7L68.1 142.4L67.8 143.5L66.8 144.0L65.4 144.1L65.3 145.2L64.6 145.6L63.8 145.6L64.1 146.6L64.5 146.8L63.8 147.4L63.6 148.5L62.6 149.1L62.5 149.6L63.3 150.3L62.4 151.6L62.0 152.7L61.7 153.8L62.0 154.5L62.1 155.3L63.0 156.6L63.7 156.8L62.8 157.2L61.4 157.3L60.4 156.2L59.5 155.2L58.7 154.6L58.4 152.4L58.2 150.8L58.8 149.6L58.6 148.1L59.3 147.2L59.2 145.9L59.4 144.5L59.3 143.2L59.8 141.8L60.3 140.2L60.4 138.4L60.5 137.1L60.9 135.4L61.0 133.6L61.1 131.6L60.5 131.1L59.8 130.7L58.5 129.8L57.8 129.0L57.3 128.0L56.8 127.0L56.1 125.7L55.3 124.8L55.2 124.1L55.7 123.5L55.9 122.9L55.4 122.4L55.7 121.6L55.9 121.1L56.4 120.6L57.1 120.0L57.3 119.5L57.2 118.4L57.0 117.8ZM95.5 101.0L95.1 100.5L94.5 100.2L93.7 100.4L93.8 99.4L93.4 99.2L93.8 98.0L93.7 96.7L93.5 96.2L94.2 95.7L95.3 95.8L96.6 95.8L97.5 95.9L97.8 94.9L97.8 93.9L97.3 93.1L96.9 92.7L96.1 92.5L96.0 91.9L96.9 91.7L97.5 91.9L97.5 91.0L98.3 91.3L99.0 90.8L99.3 90.3L99.8 89.8L100.4 89.5L100.7 88.9L101.0 88.3L101.4 87.8L102.2 87.7L102.9 87.7L103.0 86.8L103.0 85.9L102.8 85.0L103.0 84.4L103.8 83.9L104.1 83.8L103.9 84.9L104.2 85.2L104.0 85.8L103.7 86.4L104.3 86.9L104.6 87.3L105.6 87.0L106.2 87.4L107.2 86.8L108.3 86.6L108.9 86.9L109.6 86.2L109.7 84.9L109.9 84.1L110.5 83.9L111.1 84.2L111.5 83.6L111.2 83.1L111.0 82.3L111.8 81.9L113.4 81.9L114.3 81.4L113.6 80.9L112.6 81.0L110.7 81.5L109.8 80.7L109.9 79.2L109.8 77.8L110.4 77.0L111.5 75.9L112.0 75.4L112.0 74.7L111.0 74.6L110.2 74.9L109.7 75.9L109.5 76.9L108.8 77.5L108.3 78.1L107.9 78.9L107.7 79.9L107.7 80.8L108.4 81.2L108.5 81.8L108.1 82.5L107.5 83.0L107.3 84.0L107.1 84.9L106.2 85.4L105.4 86.0L105.2 85.2L105.1 84.7L104.7 83.7L104.4 82.7L104.1 82.2L103.9 82.5L103.5 82.7L102.8 83.4L102.2 83.5L101.6 83.2L101.4 82.5L101.1 81.2L101.1 80.1L101.2 78.9L101.9 78.4L103.0 77.6L103.8 76.9L104.6 75.6L105.2 74.4L105.8 72.7L106.4 71.5L107.0 70.8L107.8 69.7L108.6 68.8L109.6 68.3L110.7 67.9L112.2 66.9L113.6 67.2L115.0 68.2L116.0 69.3L117.5 69.9L118.7 70.5L120.0 71.9L120.4 73.3L119.9 74.4L119.0 74.2L117.4 73.7L116.2 73.6L116.9 75.1L117.0 76.1L117.9 76.6L118.4 77.1L119.6 76.1L120.8 73.8L121.9 74.2L122.0 71.9L121.6 70.8L122.9 71.3L124.0 72.1L125.1 71.6L126.9 70.5L128.0 70.9L129.1 70.8L129.9 70.2L130.8 69.0L132.0 69.4L133.0 69.9L133.9 69.1L134.1 67.4L134.0 66.1L134.9 64.0L135.5 63.2L136.3 63.8L137.2 65.0L137.1 66.7L137.2 68.2L137.1 70.2L137.6 71.1L137.3 73.0L136.9 73.8L137.6 73.4L138.1 72.2L138.4 70.3L137.6 69.6L137.9 67.7L137.4 66.4L138.1 64.3L138.8 64.9L138.6 66.6L139.5 66.1L140.3 64.9L141.3 64.1L142.4 64.3L141.6 62.5L144.5 61.9L144.7 60.1L145.8 58.9L147.4 58.0L149.6 57.4L151.2 56.5L152.5 54.6L154.0 53.6L155.2 54.4L156.2 56.0L157.6 56.0L159.0 57.8L158.6 61.7L157.3 62.3L158.6 63.1L160.2 62.5L161.8 63.4L163.9 62.3L166.0 62.7L167.0 63.6L167.4 65.7L168.5 66.2L169.1 65.7L170.3 66.1L171.9 66.1L173.0 64.5L174.3 64.1L176.2 64.9L178.3 65.9L179.7 67.2L181.0 67.1L182.3 67.2L183.5 68.0L184.1 69.3L185.8 69.1L187.9 68.8L189.2 68.5L190.6 69.0L192.2 68.8L193.5 69.4L194.3 70.2L194.3 75.5L193.6 76.1L192.9 76.0L193.4 76.6L194.0 78.3L193.0 78.7L191.4 79.4L190.0 80.4L189.2 81.5L187.9 80.8L186.8 81.5L186.2 81.6L185.5 81.8L184.7 83.5L185.4 83.9L184.8 85.3L184.6 86.1L183.6 87.1L182.9 88.3L181.9 89.9L181.7 88.6L181.4 86.8L181.3 85.0L181.8 84.0L182.6 83.5L183.8 81.8L184.6 81.1L183.6 80.6L183.3 79.4L182.1 79.7L180.6 81.6L179.4 82.3L178.4 81.8L177.5 82.2L175.9 82.1L174.6 82.2L173.4 83.2L171.9 84.9L171.4 86.4L172.0 87.3L173.3 87.4L173.7 88.1L173.6 89.0L173.3 89.9L173.3 91.0L173.0 92.1L172.2 93.2L171.8 93.9L171.1 94.7L170.4 95.6L169.5 96.3L168.7 96.0L168.3 96.5L167.6 97.5L167.5 97.7L166.6 98.4L166.3 98.9L166.9 99.6L167.3 100.2L167.4 101.0L167.3 101.6L166.9 101.7L166.2 102.0L165.8 102.1L165.8 101.3L165.8 100.4L166.0 99.8L165.3 99.9L164.9 99.7L165.2 98.7L164.6 98.4L163.9 98.7L163.1 99.0L163.1 98.4L163.5 98.0L163.0 97.7L162.3 98.0L161.8 98.9L161.3 98.9L161.1 99.3L161.4 99.8L161.8 100.2L162.2 100.2L162.8 99.8L163.7 100.1L163.7 100.4L162.8 100.7L162.1 101.5L161.9 102.0L162.5 102.1L162.8 103.2L163.4 103.8L163.4 104.3L163.0 104.7L163.5 104.9L163.2 105.9L162.7 106.4L162.1 107.3L161.8 107.6L161.3 108.1L160.6 108.8L160.1 109.1L159.3 109.4L158.8 109.5L158.1 109.8L157.5 109.9L157.2 110.6L157.0 109.9L156.2 109.8L155.4 110.0L155.2 110.5L154.7 111.3L155.1 111.9L155.6 112.4L156.2 113.2L156.6 114.3L156.6 115.3L156.1 115.7L155.4 116.0L155.1 116.5L154.4 117.0L154.3 116.5L154.4 116.1L154.0 116.0L153.4 115.7L153.1 115.1L152.5 114.8L152.2 114.4L151.8 114.4L151.6 114.9L151.3 116.1L151.3 116.7L151.9 117.6L152.2 117.9L152.8 118.3L153.3 118.7L153.6 119.1L153.5 119.6L153.6 120.1L153.9 120.7L153.6 120.9L153.1 120.6L152.4 120.2L152.2 119.7L152.0 119.1L151.9 118.8L151.9 118.2L151.4 117.9L150.9 117.3L150.9 116.3L151.0 115.5L150.9 114.6L150.7 113.8L150.4 112.9L150.2 112.5L149.6 112.7L149.3 113.1L148.7 113.0L148.7 112.1L148.8 111.5L148.3 111.1L148.0 110.7L147.6 110.3L147.4 109.8L147.3 109.3L146.6 109.1L146.2 109.6L145.8 109.8L145.4 109.8L144.7 110.2L144.5 110.6L143.7 111.0L143.2 111.7L142.2 112.6L141.7 113.0L141.2 113.1L141.0 113.8L141.2 114.6L140.9 115.6L140.9 116.1L140.5 116.5L140.1 116.8L139.7 117.3L139.2 116.8L138.9 116.1L138.7 115.3L138.3 114.8L138.2 114.1L137.6 113.0L137.4 111.9L137.3 111.2L137.1 110.0L137.2 109.6L136.8 110.0L136.0 110.2L135.3 109.5L135.8 109.2L135.1 109.1L134.8 108.6L134.3 108.5L134.0 108.0L133.8 107.6L132.8 107.7L131.5 107.8L130.2 107.6L129.6 107.5L129.0 107.4L128.7 106.7L128.4 106.5L128.1 106.7L127.6 107.0L126.9 106.8L126.4 106.3L125.9 106.1L125.5 105.6L125.1 104.8L124.9 104.8L124.5 104.7L124.0 104.8L123.9 105.1L124.2 105.7L124.4 106.2L124.9 106.8L125.2 107.1L125.1 107.3L125.5 108.0L125.8 107.7L125.9 107.4L125.9 108.1L126.5 108.3L127.2 108.4L128.0 107.6L128.3 107.3L128.5 107.0L128.5 107.9L129.0 108.5L129.7 108.7L130.3 109.3L129.8 110.1L129.6 110.5L129.2 110.6L129.2 111.3L128.6 111.5L127.9 112.1L127.3 112.4L126.4 112.7L126.2 113.2L124.9 113.7L124.4 114.1L124.0 114.1L123.3 114.4L122.5 114.7L121.6 114.8L121.5 114.5L121.3 113.6L121.1 113.4L121.2 112.8L120.9 112.1L120.4 111.2L119.9 110.6L119.3 110.0L119.2 109.2L119.0 108.6L118.4 108.3L118.3 107.8L117.9 107.4L117.7 106.9L117.1 106.0L116.9 106.1L117.0 105.1L116.7 106.0L116.5 106.3L116.1 105.8L115.8 104.9L115.6 105.0L115.9 105.6L116.2 106.2L116.6 107.2L117.0 107.8L117.5 108.5L117.4 109.0L118.0 109.5L118.3 110.2L118.4 111.5L118.9 111.9L119.2 112.5L119.4 113.0L119.9 113.5L120.4 113.8L121.0 114.5L121.4 114.8L121.5 115.2L121.9 116.0L122.4 115.9L123.3 115.8L124.0 115.6L124.8 115.5L125.2 115.3L125.7 115.2L125.7 115.9L125.5 116.1L125.3 116.7L124.8 117.7L124.3 118.8L123.9 119.4L123.3 120.1L122.7 120.5L121.9 121.0L120.8 121.9L120.5 122.5L119.9 123.0L119.5 123.9L119.3 124.1L119.1 125.1L119.4 125.9L119.4 126.4L119.7 127.0L119.9 127.1L120.0 127.9L120.1 129.2L119.8 130.3L118.4 131.1L117.8 131.7L117.0 132.4L117.0 132.8L117.2 133.2L117.3 133.7L117.4 134.6L117.1 135.1L116.0 135.6L115.8 135.9L115.8 137.3L115.2 137.9L114.4 139.2L113.5 140.1L113.1 140.4L112.5 140.6L112.2 140.8L111.6 140.9L110.7 140.8L110.5 140.8L109.9 141.1L109.2 141.4L108.9 141.4L108.5 141.1L108.2 140.9L108.1 140.4L108.2 140.0L108.0 139.4L107.6 138.3L107.1 137.5L106.5 136.6L106.3 135.6L106.1 133.7L105.6 133.0L105.2 132.0L104.7 131.0L104.6 130.6L104.7 130.1L104.9 129.4L105.1 128.9L105.7 128.0L105.7 127.7L105.5 126.8L105.3 126.4L105.2 125.3L104.9 125.0L105.0 124.7L104.8 124.3L104.4 123.7L103.8 123.1L103.5 122.7L103.1 122.2L103.4 121.4L103.5 121.1L103.7 120.4L103.6 119.7L103.2 119.5L103.0 119.2L102.4 119.3L102.0 119.4L101.6 119.3L101.3 118.8L100.7 118.2L100.4 118.2L99.9 118.2L99.5 118.3L99.0 118.5L98.2 118.8L97.9 118.9L97.4 119.1L96.9 118.9L96.7 118.9L96.3 118.8L96.0 118.8L95.4 118.9L95.0 119.1L94.5 119.3L94.3 119.3L94.2 119.0L93.7 118.9L93.2 118.6L92.4 118.0L92.2 117.9L91.8 117.7L91.6 117.4L91.4 116.8L91.2 116.5L90.9 116.3L90.7 116.1L90.6 115.9L90.4 115.7L89.9 115.4L89.6 115.1L89.6 114.9L89.5 114.5L89.6 114.3L89.3 113.8L89.1 113.7L89.3 113.6L89.6 113.2L89.7 112.9L89.9 111.8L89.8 111.2L89.7 111.0L89.8 110.7L89.5 110.0L89.4 109.9L89.6 109.5L89.8 109.2L89.9 108.6L90.2 108.2L90.4 108.1L90.6 107.8L90.8 107.1L91.1 106.9L91.5 106.2L91.7 106.1L92.2 106.0L92.6 105.6L92.9 105.4L93.3 104.9L93.2 104.1L93.4 103.6L93.5 103.2L93.8 102.8L94.3 102.5L94.8 102.3L95.1 101.6L95.3 101.2L95.6 101.1L96.0 101.5L96.5 101.4L97.1 101.6L97.3 101.6L97.8 101.2L98.4 101.1L98.7 100.8L99.2 100.6L100.2 100.5L101.0 100.4L101.3 100.6L101.8 100.3L102.3 100.3L102.6 100.4L102.9 100.4L103.5 100.2L103.9 100.2L103.9 100.6L104.3 100.3L104.4 100.4L104.1 100.8L104.1 101.1L104.3 101.2L104.2 101.8L103.8 102.1L103.9 102.5L104.4 102.8L104.6 102.9L105.2 103.1L105.4 103.0L106.5 103.4L106.8 104.0L107.3 104.1L108.0 104.3L108.6 104.7L108.9 104.5L109.2 104.2L109.1 103.7L109.6 103.2L109.9 103.1L110.6 103.2L110.8 103.5L111.7 103.7L111.9 103.8L112.6 103.8L113.1 104.0L113.6 104.2L114.3 104.1L114.9 103.8L115.5 104.0L115.8 104.2L116.4 104.2L116.7 104.1L116.9 103.9L117.1 103.1L117.1 102.9L117.4 102.3L117.6 101.4L117.7 101.2L117.7 100.6L117.4 100.6L116.9 100.5L116.6 100.9L115.8 101.0L115.3 100.6L114.7 100.6L114.6 100.8L114.3 101.0L113.7 100.6L113.1 100.6L112.8 99.9L112.5 99.6L112.7 99.0L112.4 98.7L112.5 98.2L112.6 98.3L112.8 98.0L113.8 98.0L114.0 97.5L113.4 97.3L113.7 96.9L113.2 96.5L113.4 96.0L113.7 95.5L113.8 94.8L114.2 94.5L114.6 93.9L115.0 93.4L115.6 93.6L116.3 93.9L116.2 94.5L115.8 94.5L116.3 95.0L117.1 94.7L117.6 94.4L117.3 94.0L117.9 93.7L118.8 93.1L119.3 92.9L118.8 93.5L118.5 93.5L119.0 93.8L118.4 94.4L118.0 94.6L118.8 95.2L119.3 95.5L119.9 96.1L120.5 96.5L120.7 97.0L120.5 97.3L120.0 97.6L119.5 97.6L118.8 97.7L118.1 97.4L117.6 97.1L117.2 96.9L116.3 96.9L115.3 97.3L114.5 97.5L114.1 97.5L113.9 97.6L113.4 97.6L112.9 97.9L112.5 98.0L112.3 97.8L112.0 97.7L111.7 97.7L111.1 97.8L111.2 98.0L110.6 98.0L110.5 98.1L110.6 98.5L110.9 98.9L110.6 99.1L111.0 99.4L111.2 99.6L111.2 99.9L110.8 99.8L110.9 100.1L110.6 100.2L110.8 100.8L110.4 100.8L110.0 100.5L109.8 100.0L109.7 99.5L109.2 98.8L109.2 98.6L108.8 98.1L108.7 97.8L108.8 97.3L108.8 97.1L108.6 96.7L108.3 96.5L107.8 96.2L107.4 96.0L107.0 95.8L106.5 95.3L106.7 95.2L106.4 94.9L106.4 94.6L106.1 94.6L105.7 94.6L105.7 94.3L105.4 94.2L105.0 94.4L105.1 94.8L105.0 95.0L105.2 95.4L105.6 95.8L105.9 96.3L106.5 96.9L106.9 97.0L107.1 97.1L106.9 97.3L107.4 97.5L107.8 97.7L108.2 98.0L108.3 98.2L108.2 98.5L107.9 98.1L107.4 98.0L107.2 98.5L107.6 98.7L107.6 99.1L107.3 99.2L107.0 99.7L106.8 99.8L106.8 99.6L106.9 99.2L107.0 99.0L106.7 98.3L106.4 98.2L106.3 97.9L106.0 97.8L105.7 97.5L105.3 97.4L104.9 97.1L104.4 96.6L104.0 96.3L103.9 95.5L103.6 95.5L103.2 95.2L102.9 95.3L102.7 95.6L102.4 95.7L101.9 96.1L100.9 95.9L100.1 96.1L100.0 96.6L100.2 97.0L99.6 97.5L98.9 97.6L98.8 97.8L98.5 98.3L98.3 98.8L98.5 99.2L98.2 99.5L98.1 100.0L97.7 100.1L97.3 100.6L96.1 100.6L95.8 100.8L95.5 101.0ZM95.4 90.7L96.6 90.5L97.9 90.1L99.2 89.7L99.3 89.0L99.4 88.5L98.6 87.8L98.2 86.9L97.7 86.2L97.1 85.4L97.4 84.0L96.9 83.8L96.8 82.9L95.8 82.9L95.1 84.0L95.5 85.2L95.2 85.9L95.8 86.4L96.5 86.5L96.6 87.3L96.9 87.9L96.0 87.9L96.3 88.8L95.6 89.3L96.9 89.5L96.1 89.8ZM95.3 88.9L95.1 87.4L95.5 86.8L95.0 86.2L94.4 86.1L93.9 86.8L93.1 87.1L93.4 88.2L93.1 89.3L93.9 89.4L94.8 89.0ZM104.3 50.7L105.4 48.2L107.0 47.3L108.6 46.3L110.2 45.7L112.8 46.7L111.2 50.2L109.6 52.9L108.0 56.3L106.4 54.6L105.4 53.4ZM126.1 66.2L126.9 63.6L127.7 62.7L128.3 60.8L129.3 58.5L130.9 57.2L132.5 56.0L134.9 55.3L133.6 58.0L131.5 59.7L129.6 61.7L128.8 64.5L128.5 66.6L127.7 67.5L126.7 67.4ZM149.0 49.6L150.1 45.7L151.7 43.4L153.8 47.3L154.4 50.2L152.2 52.4L150.6 50.7ZM123.5 46.3L126.1 44.0L129.3 42.3L132.5 44.0L130.4 47.3L126.7 47.3L124.0 47.9ZM170.9 60.1L171.9 57.6L173.5 57.2L175.7 58.7L178.3 59.1L177.3 60.8L174.1 62.7L172.5 61.7ZM193.5 66.7L194.3 66.2L194.3 67.2ZM2.6 66.2L3.9 66.7L3.1 67.2L2.6 67.2ZM2.6 70.2L4.7 69.0L6.9 70.2L8.1 74.2L7.1 75.0L6.3 76.5L4.7 75.6L3.1 75.4L2.6 75.5ZM168.2 102.3L168.7 101.8L169.3 101.4L170.1 101.3L170.9 101.0L171.3 100.2L171.7 100.4L172.3 100.0L172.7 99.4L172.9 98.7L173.0 98.0L173.1 97.4L173.7 97.3L174.0 98.3L173.9 99.2L173.5 99.6L173.5 100.2L173.4 100.9L173.4 101.3L172.9 101.6L172.4 101.9L172.0 101.9L171.5 101.9L171.3 102.1L170.9 102.6L170.4 102.4L170.5 101.9L169.9 101.9L169.3 102.1L168.8 102.5ZM167.5 102.8L167.9 102.4L168.4 102.4L168.7 102.8L168.5 103.9L168.2 104.2L167.8 104.1L167.8 103.5L167.6 103.1ZM169.0 103.1L169.2 102.4L169.9 102.1L170.2 102.5L169.9 102.8L169.3 103.1ZM173.0 97.3L173.0 96.6L173.3 96.0L173.8 95.9L173.9 94.4L174.3 94.7L174.9 95.3L175.8 95.2L175.9 96.0L175.1 96.3L174.8 96.9L174.0 96.5L173.5 97.1ZM174.1 93.9L174.4 93.4L174.9 93.7L174.7 92.0L175.4 91.7L174.8 90.8L174.7 89.1L174.8 87.9L174.4 87.0L174.2 87.8L174.2 89.9L174.0 92.0L174.1 92.8ZM162.4 109.0L162.6 108.1L163.1 107.7L163.4 107.8L163.1 108.7L162.8 109.6ZM156.3 111.2L156.8 110.7L157.3 110.7L157.6 111.0L157.2 111.5L156.8 111.7L156.3 111.6ZM141.0 116.4L141.5 116.6L142.1 117.6L141.9 118.2L141.4 118.5L141.1 118.2L140.9 117.3ZM162.6 111.6L163.0 111.5L163.5 111.6L163.6 112.3L163.4 112.9L163.2 113.2L163.3 114.0L163.9 114.2L164.5 114.7L164.1 114.5L163.7 114.2L163.0 114.3L162.7 114.0L162.7 113.5L162.3 113.0L162.6 112.1ZM163.4 115.3L164.1 115.8L164.8 115.4L165.3 114.9L165.4 115.7L165.1 116.2L164.5 116.3L163.9 116.7L163.6 116.2ZM163.4 117.9L164.3 117.4L164.4 116.9L165.1 116.8L165.3 116.4L165.8 117.6L165.5 118.2L165.2 118.6L164.6 118.3L164.4 117.7L163.8 117.6ZM156.5 120.8L156.9 120.5L157.6 120.7L157.8 120.2L158.6 119.8L159.4 119.1L160.0 118.8L160.6 117.9L161.1 118.2L161.9 118.8L161.4 119.3L161.1 119.8L161.3 120.4L161.8 121.1L161.2 121.2L161.0 121.9L160.5 122.4L160.5 122.9L160.2 123.6L159.5 123.7L158.6 123.3L157.9 123.3L157.1 123.1L157.0 122.5L156.6 121.9ZM149.2 118.6L150.4 118.8L150.8 119.3L151.5 119.9L152.0 120.5L152.6 120.5L153.4 121.0L153.7 122.1L154.1 122.6L154.7 122.9L154.9 123.3L154.8 124.7L154.2 124.7L153.8 124.3L153.1 123.8L152.4 123.1L151.9 122.3L151.3 121.5L151.0 120.6L150.5 120.3L149.8 119.5ZM154.5 125.2L154.9 124.7L155.6 124.8L156.2 125.0L157.3 125.3L158.4 125.3L158.6 125.7L159.4 125.8L159.5 126.3L158.9 126.1L157.6 126.0L156.3 125.7L155.2 125.6ZM162.1 121.6L162.4 121.2L162.9 120.9L163.9 121.1L164.9 120.7L164.7 121.4L164.1 121.4L162.9 121.4L162.5 121.5L162.6 122.0L163.1 122.1L164.1 121.9L163.1 122.6L163.6 123.4L163.7 124.2L163.1 124.1L163.0 123.1L162.6 123.1L162.6 124.5L162.1 124.5L162.0 123.5L161.7 123.1L161.9 122.6ZM168.2 122.3L169.0 121.8L169.8 122.0L169.9 123.0L170.6 123.4L171.6 122.4L172.1 122.5L173.5 123.0L174.4 123.4L175.4 123.7L176.1 124.4L176.2 124.5L177.0 124.9L176.8 125.6L177.3 125.9L177.6 126.5L178.8 127.1L178.3 127.3L177.7 127.1L176.9 127.1L176.2 125.9L175.5 125.7L175.1 125.8L174.8 126.4L174.4 126.6L173.5 126.5L172.5 125.9L172.0 126.1L172.3 125.5L171.9 124.5L171.1 124.1L170.4 124.0L169.6 123.5L169.2 123.7L168.7 123.1L169.3 122.9L168.6 122.5ZM177.5 124.5L178.3 124.3L179.1 123.9L179.4 124.5L178.6 124.9L177.8 124.9ZM164.5 127.1L165.1 126.5L166.2 126.1L165.5 126.5L165.0 127.0ZM160.2 126.4L161.8 126.0L163.8 126.0L162.9 126.4L160.8 126.5ZM124.7 128.0L125.0 129.0L125.3 130.0L125.0 130.2L124.9 130.8L124.5 132.0L124.3 132.8L123.8 134.7L123.5 135.3L122.6 135.7L122.1 135.5L121.8 134.8L121.6 133.7L121.6 133.2L122.0 132.6L122.1 131.8L121.9 131.0L122.1 130.3L122.7 130.2L123.1 130.1L123.9 129.5L124.0 129.1L124.4 128.6ZM158.8 133.9L159.0 135.2L159.0 136.2L159.3 137.4L159.7 138.4L160.1 139.4L159.7 140.6L159.9 141.1L160.6 141.5L161.3 141.6L162.1 141.2L162.9 140.8L164.3 140.8L164.6 140.2L165.5 139.8L166.6 139.8L167.4 139.4L168.3 139.3L169.1 139.6L169.9 140.1L170.4 141.2L170.8 141.4L171.1 140.5L171.5 140.7L171.8 140.2L171.9 140.7L171.7 141.6L172.1 141.8L172.7 142.1L172.9 143.0L173.3 143.5L173.9 143.7L174.9 144.0L175.4 143.5L175.7 143.8L176.4 144.2L176.9 143.6L177.4 143.4L178.3 143.2L178.4 142.4L178.8 141.6L179.0 140.7L179.4 140.1L179.9 139.4L180.0 138.6L180.2 137.5L180.0 136.5L180.0 135.5L179.7 135.2L179.2 134.8L178.8 134.0L178.3 133.7L177.8 133.0L177.3 132.5L176.6 132.1L176.2 131.3L175.9 130.5L175.8 129.6L175.4 129.2L174.9 129.1L174.9 128.5L174.5 127.9L174.3 127.3L174.1 127.9L173.9 128.5L173.8 129.4L173.9 130.5L173.5 131.0L173.1 131.2L172.6 131.0L172.1 130.7L171.5 130.2L171.0 129.9L170.6 129.5L170.8 128.7L171.1 128.0L170.7 128.1L170.1 128.0L169.6 127.9L169.1 127.8L168.6 127.7L168.2 128.1L167.7 128.6L167.8 129.0L167.4 129.4L167.5 129.7L166.9 129.6L166.5 129.3L166.1 129.0L165.4 129.4L165.0 129.7L164.7 130.0L164.2 130.6L163.8 130.8L163.5 131.5L163.0 131.9L162.2 132.4L161.7 132.6L161.0 132.9L160.6 132.8L160.0 133.3L159.5 133.5L159.3 133.9ZM175.4 145.4L176.4 145.6L177.4 145.5L177.4 146.4L177.2 147.2L176.6 147.4L175.9 146.8L175.5 146.0ZM190.4 141.1L191.1 141.6L191.4 142.3L191.8 142.5L192.1 143.2L192.9 143.4L193.5 143.3L193.2 144.3L192.7 144.4L192.6 144.9L192.2 145.8L191.7 146.1L191.4 145.8L191.7 145.2L191.4 144.8L191.0 144.4L191.4 144.0L191.5 143.1L191.3 142.5L190.7 141.6ZM190.4 145.2L190.7 145.8L191.2 146.1L191.1 146.5L190.4 147.3L190.6 147.6L189.8 148.0L189.4 149.1L188.6 149.7L188.1 149.7L187.2 149.4L187.1 149.1L187.9 147.9L188.4 147.7L189.2 147.0L189.7 146.1L190.0 145.9L190.1 145.5ZM53.2 109.6L53.7 109.2L54.5 109.0L55.5 109.0L56.2 109.4L57.4 109.8L58.2 110.2L58.9 110.6L58.2 110.8L57.0 110.8L57.4 110.4L56.6 109.8L55.7 109.7L54.9 109.5L54.4 109.2L53.7 109.6ZM58.8 111.6L59.7 110.8L60.3 110.8L61.2 110.9L61.8 111.3L62.0 111.5L61.4 111.6L60.8 111.7L60.4 112.1L59.9 111.7L59.0 111.7ZM56.8 111.6L57.9 111.7L57.5 112.0L57.0 111.9ZM62.7 111.6L63.5 111.6L63.4 111.9L62.7 111.9ZM66.9 92.7L66.8 92.0L67.4 91.5L67.9 90.2L68.7 89.4L68.9 89.4L68.8 90.5L69.4 91.2L70.0 91.3L70.1 92.0L70.4 92.8L70.2 93.4L69.9 93.5L69.6 92.5L68.9 93.3L68.5 92.7L67.9 92.7ZM32.8 92.1L31.8 91.8L30.4 90.7L30.1 90.1L30.7 90.3L31.9 90.8L32.5 91.5ZM65.5 73.6L65.2 75.0L64.1 77.5L63.7 79.0L62.9 79.3L62.0 78.7L60.6 78.2L59.6 77.0L58.5 76.3L57.1 76.4L57.1 75.3L59.0 74.9L59.2 73.3L59.6 72.1L58.7 71.5L57.4 70.5L56.4 68.5L55.1 69.0L53.2 68.3L51.3 67.9L50.9 66.6L50.5 64.1L51.4 62.5L52.9 63.1L54.8 62.1L56.9 64.1L59.0 65.4L60.6 67.2L62.1 68.5L62.8 70.0L63.0 71.3L64.4 72.6ZM55.6 77.2L55.1 78.5L54.0 79.0L52.4 77.4L52.9 75.0L53.9 75.4L54.8 76.3ZM44.9 69.3L43.6 70.5L41.5 70.3L39.9 70.0L38.3 69.6L35.9 68.7L35.4 67.1L36.1 66.1L35.6 64.3L37.5 63.6L39.9 64.0L40.9 63.1L42.5 64.0L43.6 65.4L44.1 67.4L44.7 68.3ZM36.9 66.2L35.9 66.7L34.3 66.4L32.7 66.2L31.5 65.4L32.0 62.1L32.7 61.1L35.3 60.9L36.9 62.7L36.0 64.3ZM46.8 65.7L45.7 66.2L43.9 64.5L44.4 62.7L45.7 62.1L46.8 62.7ZM50.3 65.0L48.5 65.4L47.9 63.6L48.1 61.5L50.0 61.7ZM56.1 60.8L54.3 61.1L51.6 60.6L49.5 59.7L49.5 56.5L51.1 56.3L53.2 56.7L55.9 56.7L56.6 59.1ZM56.9 56.5L55.3 55.6L52.7 54.1L51.6 52.9L51.1 48.8L49.5 46.3L51.1 42.3L54.3 39.7L57.4 36.8L61.2 35.9L64.4 38.0L66.0 39.7L64.4 42.3L62.2 45.7L60.6 47.9L58.5 50.2L58.0 52.4L59.0 54.9ZM50.5 52.1L48.9 51.3L47.6 49.1L47.3 46.0L48.9 43.4L50.5 45.7L51.6 48.5ZM42.5 59.7L40.4 60.3L38.8 60.8L36.4 59.7L35.9 57.2L37.7 56.5L39.9 56.5L41.5 57.6L42.5 58.0ZM46.8 60.1L44.7 59.3L43.6 57.2L45.2 56.0L46.3 56.7L46.8 58.5ZM47.3 55.3L43.1 54.1L42.0 51.6L38.8 52.1L39.9 54.1L43.1 55.1L45.7 56.5ZM17.5 84.3L16.2 84.9L16.1 83.9L17.0 83.3ZM9.0 87.9L10.1 87.4L10.6 87.1L9.5 87.8ZM115.6 101.9L116.3 101.9L116.9 101.2L116.0 101.4L115.6 101.6ZM111.0 101.5L111.5 101.4L112.5 101.6L112.0 101.7L111.2 101.6ZM105.1 99.7L105.6 99.6L106.8 99.5L106.5 100.6L106.1 100.4L105.1 100.0ZM102.8 99.0L102.9 97.7L103.3 97.5L103.7 98.0L103.6 98.9L103.2 99.0ZM103.0 97.3L103.1 96.5L103.5 96.2L103.5 96.9L103.3 97.3ZM135.1 151.9L136.0 151.5L135.9 152.2L135.3 152.2ZM78.2 155.9L79.2 156.0L79.4 156.6L78.5 156.3ZM65.8 153.4L67.6 153.5L67.7 154.0L66.8 154.4L66.0 154.0ZM2.6 191.1L7.9 191.4L11.7 190.8L14.3 189.1L15.9 191.1L18.6 187.4L20.7 185.6L23.9 183.9L26.6 182.4L29.2 182.1L31.9 181.1L34.5 181.5L37.2 182.1L39.9 182.4L42.5 180.5L45.2 180.0L47.9 179.2L50.5 179.6L53.2 180.3L55.9 180.5L57.4 178.7L59.0 176.1L60.4 174.2L62.0 171.3L62.8 169.5L63.8 167.8L65.2 166.7L67.0 165.4L68.1 165.6L67.3 166.7L66.2 168.2L65.5 169.8L64.9 171.3L64.6 173.3L65.3 175.3L65.9 177.8L66.0 180.5L65.7 182.4L64.9 183.5L65.4 185.2L67.0 185.6L68.6 187.9L70.8 189.8L74.0 190.1L77.1 189.8L79.3 187.9L80.9 184.7L83.5 184.1L85.1 181.9L87.8 180.5L89.9 179.4L92.1 177.3L94.2 176.5L96.3 176.0L98.4 175.2L101.1 174.7L103.8 174.7L106.4 174.5L109.1 174.7L111.8 175.0L114.4 174.2L116.0 173.6L117.6 173.6L118.7 174.2L119.7 173.0L121.3 171.9L123.5 170.9L125.1 170.0L126.7 168.6L127.7 169.2L129.3 170.5L130.9 171.0L133.1 171.3L134.7 171.4L135.5 172.7L136.0 173.9L136.7 175.3L137.6 175.2L138.4 173.8L139.5 173.5L140.5 172.0L141.8 171.1L143.7 170.0L145.3 169.5L146.9 169.5L148.5 169.1L150.1 169.1L151.7 168.6L153.3 168.3L155.4 169.4L157.0 169.4L158.6 169.0L160.2 169.9L161.8 170.2L163.4 169.6L165.5 169.2L167.7 169.1L169.8 169.1L171.4 169.4L173.0 169.8L174.6 170.2L176.2 170.9L177.8 172.1L179.4 172.7L181.0 173.5L182.6 173.9L183.9 175.3L185.0 175.8L186.3 176.6L187.9 177.5L189.0 177.8L189.2 179.2L188.7 180.5L187.9 181.1L187.1 181.9L186.3 183.1L185.5 184.7L185.1 186.7L185.5 188.8L186.3 190.1L187.1 191.1L189.0 191.1L191.6 191.6L194.3 191.1L194.3 224.0L2.6 224.0Z" fill="#ffffff" stroke="#3c3c3c" stroke-width="0.55" stroke-linejoin="round"/>
<path d="M123.5 95.0L123.7 94.3L124.0 93.7L124.6 93.6L125.7 93.1L126.7 93.3L126.8 93.8L125.8 94.6L125.7 95.1L126.5 96.3L126.5 97.1L126.6 97.6L127.2 97.9L126.9 98.7L126.8 98.9L127.2 100.2L126.1 100.4L125.2 100.1L124.6 100.0L124.5 99.4L124.7 98.3L125.3 98.1L124.9 97.9L124.3 97.1L123.9 96.3Z" fill="#ddd3dc" stroke="#3c3c3c" stroke-width="0.55" stroke-linejoin="round"/>
<path d="M34.55 31.2V189.2M66.50 31.2V189.2M98.45 31.2V189.2M130.40 31.2V189.2M162.35 31.2V189.2M2.5 177.82H194.8M2.5 155.90H194.8M2.5 142.17H194.8M2.5 131.35H194.8M2.5 111.85H194.8M2.5 101.03H194.8M2.5 87.30H194.8M2.5 65.38H194.8" fill="none" stroke="#6a6a6a" stroke-width="0.7" stroke-dasharray="2.4 1.2"/>
</g>
<rect x="2.5" y="31.8" width="192.2" height="157.6" fill="none" stroke="#4a4a4a" stroke-width="0.85"/>
<circle cx="305.80" cy="113.15" r="76.00" fill="url(#gnP)"/>
<g clip-path="url(#cn)">
<circle cx="305.80" cy="113.15" r="76.00" fill="url(#gnA)" mask="url(#mnA)"/>
<circle cx="305.80" cy="113.15" r="76.00" fill="url(#gnL)" mask="url(#mnL)"/>
<path d="M297.7 75.0L297.6 76.8L297.6 78.7L297.7 80.5L297.1 81.4L296.6 82.3L296.1 83.2L295.5 83.8L295.0 84.5L294.5 85.2L294.1 85.8L293.4 85.9L292.8 86.0L292.1 86.1L291.5 86.2L290.8 86.2L290.2 86.1L289.6 86.4L288.9 86.6L288.3 86.9L287.6 87.2L286.9 87.4L286.1 87.7L285.4 87.9L284.6 88.1L283.8 88.4L283.0 88.7L282.8 89.4L282.7 90.1L282.2 90.7L281.7 91.4L281.4 92.2L281.2 93.0L281.0 93.8L280.2 94.1L279.4 94.4L278.6 94.8L278.1 95.4L277.7 96.0L277.3 96.7L276.4 97.0L275.5 97.4L274.6 97.8L273.7 98.2L273.5 98.9L273.2 99.7L273.0 100.4L272.8 101.2L273.0 101.9L273.2 102.6L272.7 103.2L272.2 103.9L271.8 104.7L271.5 105.4L271.2 106.2L270.9 107.0L271.4 107.7L271.9 108.4L272.2 109.2L272.5 109.9L274.5 110.5L276.5 111.1L275.2 111.5L274.0 112.0L272.8 112.6L271.5 113.2L271.1 114.1L270.8 115.0L272.0 115.5L273.3 116.0L273.4 116.8L273.5 117.7L271.1 118.3L269.4 117.8L267.6 117.2L266.3 116.3L265.0 115.3L264.1 114.2L263.3 113.2L262.1 112.0L260.9 110.8L259.2 110.1L257.6 109.4L255.9 109.2L254.3 110.0L252.7 110.8L252.5 112.0L252.3 113.2L251.5 114.1L250.6 115.1L250.1 116.6L249.6 118.1L249.5 119.4L249.4 120.8L247.5 121.2L245.6 121.6L244.5 122.9L243.4 124.2L244.8 125.0L246.9 124.6L249.1 124.2L250.6 124.9L252.0 125.6L253.7 125.3L255.4 125.0L257.4 124.2L259.4 123.4L260.8 122.9L262.3 122.4L262.5 123.5L262.8 124.7L262.5 126.0L262.2 127.3L262.1 128.2L261.9 129.1L260.4 129.9L258.9 130.7L258.6 132.2L259.9 133.1L262.4 133.4L261.3 134.6L260.2 135.9L258.6 138.3L257.0 140.7L256.6 142.7L256.3 144.7L255.0 147.4L252.6 147.0L250.9 146.4L249.2 145.8L248.5 144.5L247.8 143.2L247.1 141.8L246.3 140.6L245.6 139.3L244.4 138.6L243.3 137.8L241.0 137.1L238.6 136.3L239.8 137.2L241.1 138.0L242.2 139.3L243.2 140.6L244.3 141.8L242.9 143.1L240.5 143.6L240.8 145.1L241.1 146.6L241.4 148.1L240.7 149.2L239.5 148.0L238.2 146.8L236.8 145.9L235.3 145.0L237.2 143.7L235.9 142.1L234.5 140.9L233.1 139.6L231.2 139.3L230.2 140.5L228.9 139.6L227.7 137.9L226.4 136.2L224.9 136.3L222.5 135.6L220.6 135.5L218.5 134.9L216.9 135.7L215.4 136.5L213.7 135.3L211.5 133.2L209.5 131.5L207.7 130.3L206.0 129.0L202.8 128.9L201.0 129.9L199.3 131.0L197.5 131.8L195.8 132.5L192.9 132.3L192.6 130.7L195.2 129.1L198.2 126.9L200.3 126.5L202.2 124.0L201.3 121.7L202.6 119.5L202.4 117.2L202.2 115.0L199.9 114.4L199.7 112.2L200.8 109.5L200.9 107.7L201.0 105.8L199.5 102.9L198.4 101.2L197.3 99.4L195.4 99.0L193.5 98.6L191.8 98.0L191.8 97.7L191.9 97.6L191.9 97.5L191.7 98.7L191.5 100.7L191.3 102.4L191.2 104.1L191.0 106.6L190.9 109.1L190.8 111.1L190.8 112.1L190.8 112.5L190.8 114.4L190.8 116.2L191.0 119.2L190.9 118.2L190.9 117.2L190.8 116.2L190.9 116.5L190.9 116.8L191.0 119.0L191.1 121.2L191.2 123.2L191.4 125.2L191.6 126.6L191.6 126.4L191.5 126.2L191.5 126.0L191.5 125.8L191.7 127.2L192.1 130.1L192.6 133.1L192.9 135.1L193.4 137.5L193.7 138.6L193.4 137.5L193.2 136.3L192.7 134.1L192.5 132.5L192.1 130.1L191.7 127.2L191.5 125.5L191.3 123.8L191.1 121.8L191.1 121.6L191.0 120.2L190.9 118.8L190.9 117.0L190.8 115.2L190.8 113.2L190.8 111.1L190.9 108.1L191.1 105.1L191.3 102.6L191.5 100.1L191.8 98.1L192.1 96.2L192.5 93.7L192.9 91.2L193.4 88.8L194.0 86.3L194.5 84.4L195.0 82.4L194.9 82.8L195.1 82.0L195.6 80.3L196.1 78.6L198.5 76.2L201.3 75.3L204.0 74.5L206.3 73.6L208.5 72.9L212.1 72.4L214.6 71.0L212.7 70.7L210.7 70.4L206.8 71.5L204.8 71.5L202.8 71.6L199.7 71.8L198.2 72.7L197.4 74.8L197.9 73.4L198.4 71.9L199.0 70.4L201.4 70.5L203.8 69.5L206.2 68.6L208.0 68.9L209.7 69.2L213.1 67.9L215.4 68.0L217.6 68.0L220.9 67.6L222.0 66.7L223.1 65.8L224.2 64.9L226.4 65.0L228.5 65.2L230.9 65.4L232.0 65.2L235.1 65.8L237.0 66.0L238.2 67.0L239.3 68.0L241.9 69.2L243.8 70.9L245.6 72.6L247.5 73.3L249.4 74.1L248.7 74.9L248.0 75.6L250.0 76.5L251.3 76.0L252.6 75.6L254.0 75.0L255.4 74.5L257.5 75.4L259.4 75.6L261.3 75.8L263.5 76.4L265.1 76.5L266.7 76.7L268.4 76.7L270.1 76.8L271.1 76.5L272.0 76.2L273.2 76.0L274.5 75.8L275.5 75.4L276.5 74.9L277.1 74.4L277.8 73.9L278.9 74.1L280.0 74.2L280.5 73.5L281.1 72.8L282.6 73.0L282.9 72.0L283.2 71.0L282.3 69.3L282.8 68.7L283.3 68.0L283.0 66.3L283.7 65.7L284.4 65.1L285.0 63.5L285.6 62.0L286.4 61.1L287.1 60.3L287.9 59.6L288.7 58.9L289.5 58.2L290.4 57.5L289.5 58.9L288.6 60.3L287.9 61.1L287.2 61.9L286.5 64.2L286.3 66.5L286.9 66.1L287.6 65.8L288.8 65.4L289.9 65.1L291.0 66.9L292.0 67.0L293.0 67.0L294.1 68.3L294.7 70.4L294.3 71.7L293.5 72.2L292.7 72.7L292.5 74.5L293.4 74.3L294.2 74.1L295.2 73.9L296.1 73.6L296.9 74.3L297.7 75.0ZM288.0 118.6L288.8 118.7L289.7 118.8L290.6 118.9L291.5 118.9L292.1 119.1L292.7 119.1L293.3 119.2L293.8 119.2L294.2 119.4L294.5 119.5L294.9 119.6L295.2 119.8L295.5 119.9L295.7 120.1L296.0 120.3L296.2 120.5L296.5 120.6L296.7 120.8L297.0 120.9L297.3 121.0L297.5 121.1L297.8 121.2L298.1 121.2L298.5 121.1L298.9 121.1L299.2 121.0L299.4 121.1L299.6 121.3L299.8 121.4L300.0 121.5L300.2 121.6L300.5 121.7L300.6 121.9L300.8 122.2L300.9 122.4L301.1 122.6L301.3 122.9L301.3 123.3L301.4 123.7L301.5 124.1L301.6 124.6L301.9 124.8L302.1 125.1L302.3 125.4L302.5 125.6L302.8 125.9L303.0 126.1L302.5 126.9L301.9 127.6L301.3 128.3L300.7 128.9L300.0 130.4L299.2 131.8L298.8 134.2L297.9 135.1L297.0 136.1L295.9 138.2L294.6 140.3L294.1 142.2L293.0 142.5L292.0 142.7L291.1 143.2L290.2 143.7L289.5 143.5L288.7 143.2L287.9 142.9L287.1 143.1L286.2 143.3L285.2 143.7L284.1 144.2L282.9 144.1L281.8 143.9L280.9 143.9L280.1 143.8L277.8 145.1L275.5 146.4L273.7 147.5L272.2 147.9L271.9 146.5L271.5 145.4L271.1 144.4L272.2 141.8L273.0 140.2L274.3 137.8L275.6 135.5L276.9 134.5L278.3 134.5L279.5 134.4L279.6 133.6L279.7 132.8L280.5 131.2L281.2 131.4L281.8 131.5L282.1 130.5L282.4 129.5L284.2 128.0L285.2 126.5L286.2 125.1L286.3 124.5L286.4 123.9L286.2 123.5L286.0 123.0L285.9 122.6L285.7 122.1L285.8 121.4L285.9 120.8L286.3 120.2L286.8 119.5ZM289.9 149.0L291.4 148.0L292.2 148.5L293.1 148.9L294.0 149.3L295.1 149.4L296.1 149.4L296.5 151.6L295.3 153.0L294.4 153.2L293.5 153.4L292.7 153.6L291.7 153.0L290.7 152.4L290.2 152.1L289.7 151.7L290.5 151.0L290.2 150.0ZM296.8 204.6L295.9 203.0L294.1 202.0L291.9 202.1L292.5 199.4L291.5 198.4L292.3 196.9L293.1 195.4L293.3 193.7L293.5 192.0L293.1 190.6L295.1 189.6L296.4 189.8L297.7 190.1L299.4 190.3L301.1 190.6L302.2 190.7L303.4 190.8L304.2 188.3L304.3 186.1L303.1 184.0L302.1 183.1L300.3 182.4L300.3 181.1L301.3 181.0L302.2 180.9L303.8 181.3L303.7 179.3L304.6 179.7L305.6 180.1L306.9 179.0L307.6 177.9L308.6 176.8L309.8 176.1L310.3 174.8L310.9 173.5L311.5 172.6L313.0 172.1L314.4 171.9L314.4 170.3L314.2 168.6L313.5 166.9L313.8 165.8L314.9 164.8L315.4 164.5L315.5 166.4L316.0 166.8L315.9 168.1L315.5 169.2L316.8 170.1L317.5 170.6L318.4 170.2L319.4 169.7L320.5 170.1L321.4 169.3L322.2 168.5L323.1 168.0L324.0 167.4L325.3 167.7L326.1 166.0L325.4 163.6L325.1 162.3L326.0 161.6L327.2 161.6L327.3 160.4L326.6 159.8L325.6 158.7L326.6 157.7L327.8 157.2L328.9 156.6L329.4 155.9L329.8 155.1L328.5 154.9L327.8 155.4L327.1 155.8L326.3 156.5L325.6 157.2L324.8 157.8L323.9 157.5L323.0 157.1L322.3 155.0L321.4 153.2L321.8 151.8L322.2 150.8L322.5 149.9L322.8 149.0L322.5 148.3L321.9 148.5L321.2 148.6L320.4 149.3L320.4 150.8L320.6 152.1L320.0 153.2L319.6 154.2L319.3 155.5L319.5 157.1L319.9 158.4L321.1 158.7L321.7 159.5L321.4 160.7L320.7 161.8L320.8 163.6L320.9 165.2L320.3 165.9L319.6 166.6L318.4 167.9L317.7 166.5L317.4 165.7L316.5 164.1L315.6 162.6L314.9 161.9L314.8 162.4L314.1 162.9L313.2 164.2L312.1 164.5L311.2 164.1L310.6 163.0L310.0 161.0L309.8 159.3L309.8 157.5L310.8 156.7L311.4 156.0L312.1 155.3L313.0 154.2L313.8 152.4L314.2 150.6L314.5 148.5L314.8 146.9L315.2 145.9L315.7 144.6L316.2 143.4L316.7 143.0L317.1 142.6L317.5 142.1L317.9 141.7L318.4 141.0L318.9 140.2L319.6 140.0L320.3 139.8L321.1 139.9L321.9 140.0L322.7 140.2L323.5 140.4L324.3 140.2L325.2 140.0L325.9 139.9L326.6 139.8L327.7 139.9L328.8 140.1L330.2 141.0L330.6 142.4L330.1 142.7L329.6 143.0L328.6 143.4L327.6 143.7L327.0 144.1L326.3 144.4L328.1 145.5L329.0 146.6L329.7 146.5L330.4 146.4L331.4 146.5L331.6 145.4L331.8 144.4L331.5 142.8L331.0 141.2L331.7 140.9L332.3 140.6L331.4 139.6L330.5 138.5L329.3 137.9L330.0 137.6L330.8 137.3L331.5 137.1L332.2 137.0L332.5 136.3L332.7 135.7L332.8 134.9L332.9 134.1L333.0 133.2L333.5 132.9L334.0 132.6L334.3 132.0L334.6 131.5L334.5 130.4L334.2 129.6L333.8 128.9L334.4 128.4L334.9 128.0L335.3 127.6L335.8 127.3L335.6 126.6L335.4 126.0L333.9 125.1L332.7 124.7L331.9 123.9L331.2 123.2L330.8 122.5L331.5 122.0L332.1 121.8L332.8 121.5L334.3 122.1L335.7 122.4L337.7 123.2L338.8 122.9L340.9 123.9L341.7 124.6L341.5 123.7L340.2 122.7L338.3 121.9L337.3 122.4L335.5 121.7L334.1 121.7L332.4 120.5L333.0 120.0L334.6 120.6L334.4 120.2L334.3 119.7L333.3 118.8L333.1 118.2L332.9 117.7L333.0 117.2L333.2 116.8L331.5 117.2L331.5 116.6L331.4 116.0L331.4 115.3L331.3 114.7L329.8 114.5L329.4 114.0L328.9 113.6L328.6 113.0L328.3 112.4L328.1 111.9L327.9 111.3L327.7 110.9L327.3 110.3L326.9 109.8L326.2 109.5L325.5 109.1L325.1 108.7L324.6 108.3L324.8 107.9L324.9 107.5L325.3 107.0L325.8 106.5L325.6 106.0L325.4 105.6L325.9 104.9L326.2 104.2L327.7 103.7L329.2 103.2L329.6 103.7L330.0 104.1L330.1 103.5L330.2 102.8L329.7 102.3L329.2 101.7L329.2 101.0L329.3 100.1L328.7 99.8L328.1 99.4L327.5 99.1L327.3 98.5L327.0 98.0L326.8 97.5L326.8 96.9L326.8 96.2L328.1 94.8L328.0 94.2L327.8 93.7L327.0 93.5L326.8 93.0L326.5 92.5L325.9 91.9L325.4 91.4L324.5 91.6L323.7 91.9L323.1 91.6L322.5 91.4L322.2 90.9L321.9 90.4L321.5 89.9L321.1 89.2L320.8 88.6L320.3 88.0L320.1 87.1L319.8 86.2L319.2 86.0L318.6 85.8L318.0 85.4L317.4 85.1L317.0 84.5L316.6 83.9L316.5 82.5L315.9 82.3L315.3 82.2L314.7 82.1L314.0 82.0L313.2 81.9L312.5 81.9L311.7 81.9L311.0 81.9L310.4 81.6L309.7 81.2L308.9 81.2L308.0 81.2L307.4 80.9L306.7 80.5L305.8 79.7L305.0 80.1L304.3 80.6L303.6 81.1L302.8 80.7L302.0 80.4L301.1 80.0L300.1 77.8L299.0 75.6L299.5 75.0L300.0 74.4L300.8 72.3L301.9 72.7L303.0 73.2L304.1 73.3L305.1 73.5L305.8 73.3L306.7 72.5L307.7 72.7L307.0 71.8L306.3 69.5L307.0 69.2L307.7 69.0L308.9 68.5L310.1 68.0L311.2 67.4L312.3 66.8L313.1 66.0L313.9 65.3L314.8 66.1L315.6 66.8L316.6 66.4L317.5 66.1L318.6 66.2L319.8 66.2L320.8 65.0L321.8 63.9L321.0 62.9L322.7 61.0L323.5 59.6L324.6 59.0L325.7 58.4L328.0 56.8L329.5 55.6L331.1 54.4L330.3 57.0L329.9 58.8L329.5 60.6L328.9 62.2L328.2 63.7L326.7 64.9L325.2 65.2L323.7 66.1L322.3 67.0L320.7 67.7L321.3 68.3L321.9 69.0L321.8 70.7L322.7 70.9L323.6 71.1L325.3 70.2L326.9 69.3L328.0 69.2L329.1 69.3L329.7 69.9L330.2 70.6L331.0 70.8L331.7 70.9L332.7 71.7L333.8 72.5L334.7 73.0L335.6 73.6L336.9 73.5L338.3 73.5L340.1 73.2L342.0 72.9L343.3 72.2L344.6 71.5L344.9 69.4L344.1 68.6L343.2 67.8L343.4 66.1L344.6 64.9L346.4 63.8L347.9 62.0L349.9 60.6L352.9 59.9L354.8 59.1L357.3 58.9L360.0 58.5L361.5 58.7L362.9 59.0L363.7 61.0L365.4 61.0L368.7 60.7L369.2 60.5L370.8 60.8L372.3 61.2L373.9 61.1L374.4 58.6L375.1 56.4L376.8 54.7L378.2 53.9L379.3 54.7L381.4 55.7L382.4 56.7L380.4 58.0L378.4 59.6L376.6 60.2L377.9 61.7L378.2 63.0L375.3 64.0L375.5 65.6L377.2 66.8L379.2 68.2L377.7 69.1L376.4 68.7L376.3 70.4L378.0 71.4L380.8 71.6L381.5 72.9L382.8 72.9L383.6 71.5L384.1 69.9L383.6 68.6L381.8 67.9L381.4 66.5L381.0 65.2L381.9 64.7L382.9 65.6L383.9 66.6L387.1 67.2L388.7 66.8L388.1 65.0L389.4 63.8L390.7 62.5L391.3 60.0L392.7 59.1L394.3 59.3L394.3 57.7L396.0 57.1L397.8 56.5L400.1 57.4L403.9 57.4L405.6 57.8L407.2 59.0L408.4 61.3L409.4 63.3L410.7 66.0L411.3 67.5L412.4 70.1L413.3 72.3L413.6 73.3L413.9 74.0L414.8 76.7L415.8 79.5L416.0 80.3L416.5 82.0L416.1 80.7L415.5 78.8L414.9 76.9L414.7 76.1L414.4 75.3L414.4 75.3L414.4 75.3L415.0 77.2L415.8 79.5L416.2 80.9L416.8 83.2L417.0 83.8L416.9 83.4L417.2 84.7L417.8 87.1L418.0 88.1L418.5 90.2L418.7 91.4L419.0 93.0L419.1 93.4L419.2 94.1L419.3 94.8L419.3 94.6L419.1 93.5L418.9 92.4L418.7 91.2L418.2 89.0L417.8 87.3L417.6 86.3L417.7 86.7L417.6 86.3L417.3 84.9L417.6 86.1L418.0 88.1L418.5 90.4L418.7 91.2L418.8 92.0L418.9 92.6L418.9 92.6L419.2 94.2L419.5 96.2L419.5 96.2L419.5 96.2L419.5 95.8L419.5 96.0L419.5 96.2L419.6 96.7L419.7 97.3L419.8 97.9L419.9 98.7L420.2 101.1L420.3 102.3L420.5 104.3L420.5 104.5L420.4 104.1L420.6 105.9L420.6 106.9L420.7 108.5L420.7 109.1L420.7 109.5L420.8 112.1L420.8 113.8L420.8 115.4L420.7 116.8L420.6 119.4L420.6 120.2L420.4 123.2L420.2 125.2L420.0 127.0L419.7 128.8L419.4 130.7L419.1 132.5L419.0 133.1L419.1 132.5L419.1 133.0L419.0 133.5L419.0 133.5L418.7 135.1L418.4 136.5L418.1 138.0L417.7 139.8L417.4 141.0L417.1 141.9L416.8 143.3L416.7 143.7L416.4 144.7L416.1 145.8L415.9 146.2L415.8 146.6L415.7 147.0L415.6 147.2L415.5 147.5L415.6 147.2L415.2 148.7L414.2 151.5L413.3 154.0L414.0 152.1L413.1 154.5L412.6 155.9L412.0 157.3L411.5 158.4L410.4 158.8L409.8 160.7L409.2 162.5L408.2 164.8L407.1 167.0L405.7 169.0L404.2 170.9L402.7 172.5L401.4 174.3L398.5 173.6L397.5 174.3L397.4 175.6L397.0 177.7L395.1 179.2L392.5 179.7L390.8 180.8L388.5 180.6L385.6 179.9L385.2 180.7L383.9 181.2L383.2 182.9L383.7 184.0L385.9 184.3L387.9 185.0L390.5 185.3L391.9 184.9L392.5 185.6L394.9 185.8L395.0 184.6L394.5 183.5L395.9 184.6L397.2 183.0L398.8 180.7L399.7 177.9L399.4 176.1L399.0 175.1L401.6 176.8L402.7 175.1L404.1 172.9L405.2 171.0L404.3 172.5L403.8 173.2L403.1 174.4L403.0 174.6L401.8 176.5L400.3 178.6L399.1 180.4L398.0 181.9L396.9 183.3L396.7 183.6L395.0 185.7L393.4 187.7L392.2 189.0L391.1 190.2L389.5 192.0L388.4 193.2L387.3 194.3L386.1 195.4L385.0 196.6L384.5 197.0L384.3 197.2L384.1 197.4L383.6 197.8L383.9 197.5L383.0 198.3L381.5 199.7L380.0 201.0L378.3 202.4L378.2 202.5L377.4 203.1L375.8 204.4L375.2 204.6L373.3 204.1L371.6 203.1L368.0 201.7L367.4 202.4L366.0 199.5L366.8 202.6L366.8 203.9L364.6 203.3L362.1 201.1L361.7 201.6L363.6 203.2L365.7 204.3L367.3 205.4L368.9 206.4L371.4 207.6L372.9 206.5L372.6 206.8L374.5 205.3L375.3 204.7L375.6 204.6L375.8 204.4L377.2 203.3L378.2 202.5L378.6 202.1L380.0 201.0L381.5 199.7L383.2 198.2L384.4 197.1L384.7 196.8L385.8 195.7L387.1 194.5L388.2 193.3L389.3 192.2L391.3 190.1L393.2 187.8L394.3 186.6L395.3 185.4L395.3 185.4L394.9 185.8L394.5 186.3L393.9 187.1L393.2 187.8L392.7 188.5L392.1 189.2L390.9 190.5L389.3 192.2L388.0 193.6L385.8 195.7L384.3 197.2L382.7 198.6L382.0 199.3L380.2 200.9L379.6 201.3L379.1 201.8L378.5 202.3L378.1 202.6L377.7 202.9L378.8 202.0L378.6 202.1L379.6 201.4L380.2 200.9L380.5 200.6L380.6 200.5L380.6 200.5L380.3 200.8L379.9 201.1L377.8 202.8L375.6 204.5L373.9 205.8L371.4 207.6L371.4 207.6L372.1 207.1L372.4 206.9L372.6 206.8L372.7 206.6L371.8 207.3L370.1 208.5L368.4 209.6L367.8 210.0L367.7 210.1L367.6 210.1L365.9 211.2L364.6 212.0L363.3 212.7L361.7 213.6L360.1 214.5L358.9 215.1L356.9 216.1L355.8 216.7L353.9 217.6L352.3 218.3L350.7 219.0L350.0 219.3L347.9 220.1L345.3 221.1L344.4 221.5L343.0 221.9L342.1 222.3L341.7 222.4L341.9 222.3L341.1 222.6L340.4 222.8L339.6 223.1L338.1 223.5L335.9 224.1L335.5 224.2L335.0 224.4L334.7 224.4L334.5 224.5L334.2 224.6L332.4 225.0L331.7 225.2L330.9 225.4L330.1 225.5L329.3 225.7L328.9 225.8L329.3 225.7L330.1 225.5L330.7 225.4L332.8 224.9L333.0 224.9L332.1 225.1L331.5 225.2L331.3 225.3L331.1 225.3L330.1 225.5L330.3 225.5L329.5 225.7L327.9 226.0L326.0 226.4L324.6 226.6L323.4 226.8L324.4 226.6L324.8 226.6L325.4 226.5L325.0 226.5L323.6 226.8L322.8 226.9L320.8 227.2L319.2 227.4L317.6 227.5L316.6 227.6L314.4 227.8L313.0 227.9L311.2 228.0L309.6 228.1L308.0 228.1L306.4 228.1L304.8 228.1L303.6 228.1L301.8 228.1L300.0 228.0L299.2 228.0L297.8 227.9L296.6 227.8L294.2 227.6L292.8 227.4L290.8 227.2L290.4 227.1L290.0 227.0L287.8 226.7L286.0 226.4L283.1 225.9L282.5 225.8L281.1 225.5L280.1 225.2L279.5 225.1L278.6 224.9L277.8 224.7L276.8 224.4L276.6 224.4L275.8 224.2L273.9 223.6L272.9 223.3L272.8 223.3L272.6 223.2L272.8 223.3L272.0 223.1L271.0 222.8L271.8 223.0L272.8 223.3L273.1 223.4L273.5 223.5L273.9 223.6L273.5 223.5L273.3 223.5L273.5 223.5L272.4 223.2L272.2 223.1L272.9 223.3L273.5 223.5L274.1 223.7L275.3 224.0L275.8 224.2L276.5 224.1L277.9 221.8L279.2 221.4L281.1 219.4L282.1 219.0L283.9 219.1L285.6 218.0L286.6 217.5L288.4 216.1L288.5 213.4L289.5 211.9L289.8 210.7L291.0 209.6L292.9 208.9L294.3 208.2L295.7 206.4L296.3 205.0L297.1 204.9L298.3 206.2L300.0 206.1L301.6 206.6L302.2 206.6L303.9 205.7L305.6 205.3L306.6 204.5L308.2 203.9L309.5 203.7L310.8 203.4L312.1 203.2L313.3 203.0L314.2 203.3L315.7 202.4L317.2 202.2L317.9 202.5L319.0 202.4L320.6 201.3L321.7 201.3L321.8 202.3L322.9 201.3L323.2 201.7L322.6 202.8L322.8 203.7L323.3 204.0L323.5 205.8L322.5 207.0L323.0 208.0L324.6 208.7L325.3 209.0L327.4 209.2L328.1 208.8L330.0 209.0L331.9 209.1L333.2 210.7L334.9 210.6L337.5 210.7L339.7 211.0L340.4 210.3L340.9 209.1L340.2 207.6L341.0 205.3L341.9 204.7L344.3 204.2L345.1 204.7L346.5 204.4L348.0 204.1L348.8 204.4L350.8 203.4L352.7 203.2L354.5 202.9L356.2 201.5L357.6 199.7L359.6 199.2L360.8 199.2L362.6 198.0L363.1 197.2L363.2 196.4L362.2 193.8L362.0 193.2L361.5 191.3L360.4 188.6L360.2 187.8L359.3 186.2L358.6 187.0L357.3 187.5L357.0 189.1L355.1 190.5L353.5 190.4L351.9 191.1L352.0 192.0L351.3 192.9L349.3 192.6L347.8 193.4L346.0 192.1L344.6 191.7L344.6 190.0L343.4 189.5L342.9 188.3L343.4 188.2L343.6 187.3L344.7 186.7L345.9 186.1L345.7 184.6L344.0 184.9L344.3 183.7L342.6 183.3L342.4 182.0L342.5 180.4L341.9 178.8L342.5 177.7L342.7 176.1L342.7 174.6L344.3 174.0L346.1 174.0L346.5 175.2L345.7 175.7L347.6 176.0L348.7 174.4L349.3 173.0L348.2 172.7L349.0 171.3L349.3 170.1L349.7 168.9L350.3 167.9L350.2 169.6L349.7 170.0L351.1 169.9L350.8 172.0L350.3 172.8L352.7 172.8L354.3 172.7L356.4 172.9L358.3 172.5L359.4 173.3L359.7 174.0L359.1 175.8L358.0 176.5L356.9 177.9L354.8 178.5L353.4 178.6L352.1 178.8L351.1 179.5L350.2 180.2L349.3 181.4L348.5 182.6L347.0 183.9L345.9 184.6L345.7 185.1L344.4 185.8L343.6 187.1L342.9 187.9L342.2 187.4L341.2 187.6L340.5 187.9L339.1 189.0L339.6 189.4L338.0 189.9L337.9 190.3L338.6 191.3L339.8 191.8L339.4 192.6L340.5 193.0L341.4 193.2L341.8 194.1L340.4 194.3L341.2 195.0L340.4 195.6L341.7 197.0L340.7 197.4L339.2 197.1L338.1 195.9L337.3 194.7L335.3 193.4L335.1 192.9L333.6 192.0L333.2 191.3L332.9 190.0L332.8 189.4L331.8 188.6L330.9 188.3L329.4 188.0L328.5 187.9L327.2 187.7L325.8 186.7L326.0 186.5L325.2 185.9L325.0 185.2L324.2 185.2L323.5 185.6L323.3 184.9L322.5 184.7L321.6 185.5L321.9 186.4L321.9 186.9L322.5 187.7L323.9 188.4L324.9 189.7L326.7 190.7L327.9 190.6L328.4 190.9L328.1 191.3L329.5 191.5L330.6 191.8L332.1 192.3L332.4 192.6L332.3 193.4L331.2 192.8L330.0 193.0L329.7 194.3L331.0 194.7L331.2 195.6L330.5 196.0L330.2 197.7L329.7 198.1L329.5 197.5L329.5 196.3L329.7 195.9L328.2 194.3L327.5 194.1L326.9 193.5L325.9 193.3L325.1 192.7L324.0 192.8L322.8 192.3L321.3 191.2L320.1 190.5L319.4 188.7L318.7 188.7L317.5 188.1L316.9 188.6L316.4 189.4L315.7 189.7L314.7 190.9L313.3 190.8L312.0 190.6L310.0 191.3L310.0 192.5L310.3 193.6L308.8 195.0L306.9 195.4L306.8 196.0L305.9 197.1L305.4 198.7L306.0 199.8L305.0 200.6L304.7 202.0L303.6 202.3L302.5 203.7L300.7 203.6L298.9 203.5L297.8 204.2L296.8 204.6ZM299.3 178.3L300.6 178.3L301.8 178.2L303.3 177.8L304.7 177.4L306.0 177.0L307.3 176.5L307.5 175.1L307.6 174.0L306.1 172.8L305.4 171.1L304.3 169.7L303.4 168.3L304.1 165.7L303.1 165.3L303.1 163.8L302.2 163.8L301.4 163.7L300.1 165.5L300.5 167.6L299.8 168.9L300.9 169.9L302.2 170.1L302.3 171.7L302.7 172.9L301.8 172.9L301.0 172.8L301.4 174.6L300.0 175.6L301.3 175.8L302.5 176.1L300.8 176.7ZM299.3 174.6L299.4 173.1L299.4 171.6L300.2 170.5L299.4 169.4L298.3 169.0L297.3 170.1L295.7 170.6L295.8 172.7L294.9 174.9L296.5 175.3L297.4 175.0L298.4 174.7ZM309.2 130.5L309.3 129.8L309.5 129.0L309.8 128.7L310.2 128.3L310.5 128.0L310.8 127.6L311.1 127.3L311.4 127.1L311.8 127.0L312.1 127.0L312.5 127.0L312.8 126.9L312.9 128.0L312.9 129.0L312.8 129.9L312.6 130.9L312.5 132.1L312.4 133.3L311.7 132.9L311.0 132.6L310.6 132.3L310.1 131.9L309.6 131.2ZM329.0 131.2L327.5 129.2L327.2 128.2L326.2 126.9L325.7 126.0L325.1 125.2L325.0 124.5L324.9 123.7L324.8 123.1L324.7 122.4L324.8 121.8L324.9 121.2L324.9 120.7L325.6 121.5L326.3 122.3L326.5 123.0L326.7 123.6L326.8 124.3L327.0 125.0L327.2 125.7L327.4 126.4L329.1 128.3L330.6 129.6L330.9 130.8L330.6 131.1L330.2 131.5ZM322.8 111.7L321.7 111.5L320.7 111.3L320.1 111.0L319.5 110.7L320.0 110.3L320.6 109.8L321.1 109.3L322.6 108.7L323.1 108.9L323.6 109.3L324.1 109.6L323.7 110.2L323.3 110.7L323.1 111.2ZM317.0 123.6L317.0 123.2L317.0 122.7L317.0 122.3L317.0 121.9L317.1 121.5L317.1 121.1L317.2 120.7L317.2 120.3L317.5 120.1L317.9 119.8L318.2 119.6L318.6 119.4L318.9 119.9L319.2 120.5L319.5 121.0L319.3 121.4L319.1 121.7L318.9 122.0L318.6 122.3L318.4 122.7L318.3 123.0L318.1 123.3L317.9 123.6L317.8 123.9ZM322.5 95.8L321.6 96.2L320.6 96.7L320.1 96.4L319.5 96.2L319.4 95.6L319.2 95.0L319.0 94.3L318.6 94.0L318.2 93.6L317.8 93.3L317.4 93.0L318.1 92.6L318.8 92.3L319.6 92.3L320.4 92.4L321.1 92.4L321.9 92.5L322.2 93.3L322.4 94.0L322.5 94.9ZM306.6 83.3L305.8 83.8L305.8 82.8ZM378.3 50.3L376.0 50.1L373.8 49.7L372.0 48.1L369.7 47.0L367.1 47.8L366.7 46.7L364.5 46.5L362.5 46.8L360.6 48.0L359.3 49.4L358.1 50.4L356.6 49.5L357.7 46.9L359.5 45.4L361.0 45.0L362.2 43.5L363.8 42.3L364.4 41.3L366.3 41.5L368.0 41.9L369.0 42.5L370.2 43.6L371.1 43.6L373.2 43.4L373.6 44.9L372.5 45.8L373.7 47.3L375.5 48.1L377.2 48.4ZM358.1 50.9L356.9 52.3L355.5 52.9L354.2 52.3L353.0 53.7L351.8 55.1L351.3 53.8L351.2 51.9L350.1 51.2L349.1 50.6L349.9 48.9L352.0 49.5L353.8 48.7L354.8 50.9L356.6 50.4ZM350.7 55.7L349.2 56.2L348.9 55.0L347.9 56.7L346.9 58.5L345.0 58.0L345.0 60.4L344.0 61.9L343.0 63.4L341.6 65.1L341.1 67.0L342.3 66.1L343.6 64.4L345.0 62.6L346.5 61.0L348.1 59.4L349.0 57.8ZM245.6 148.9L246.9 148.0L248.5 148.4L250.0 148.2L251.5 147.9L253.8 148.4L254.1 148.8L252.0 149.9L251.6 151.8L252.0 153.0L251.0 154.1L250.0 155.7L248.6 156.3L248.0 155.8L249.3 153.9L247.1 153.6L247.6 152.0L246.9 151.0L246.2 149.9ZM248.3 75.4L249.2 74.7L250.1 74.0L252.1 73.5L254.0 73.0L255.4 73.2L254.4 74.0L253.2 74.7L252.0 75.5L249.9 75.6ZM272.9 130.8L271.0 131.2L269.2 131.4L267.4 131.4L265.3 131.9L264.3 131.0L264.5 130.2L264.7 129.3L264.7 128.3L264.7 127.3L265.2 126.3L265.8 125.4L266.1 124.5L266.3 123.7L266.0 122.8L265.7 122.0L267.2 121.6L267.5 122.4L267.9 123.2L268.3 123.9L270.2 123.5L271.8 123.6L271.9 123.0L272.1 122.4L272.5 121.5L272.9 120.7L273.8 120.0L274.7 119.2L274.4 118.6L274.0 117.9L274.1 117.2L274.3 116.6L274.4 115.9L274.5 115.2L274.7 114.6L274.8 114.0L276.1 113.5L278.3 113.2L279.1 113.5L279.8 113.9L279.6 114.5L279.4 115.2L279.7 115.7L280.0 116.2L280.4 116.7L279.9 117.4L279.4 118.1L278.9 118.9L278.7 119.6L278.5 120.3L278.3 121.0L277.7 122.0L277.1 123.0L276.7 123.9L276.4 124.9L275.2 126.2L273.9 127.0L273.6 128.0L273.2 129.0L273.0 129.9ZM264.2 120.1L262.3 119.7L261.8 118.9L261.4 118.2L262.5 116.9L263.5 115.7L265.1 116.0L266.7 116.2L266.5 116.9L266.4 117.6L265.9 118.2L265.4 118.8ZM273.9 107.2L273.4 106.4L272.9 105.6L273.1 104.8L273.4 104.1L273.7 103.3L274.1 102.5L274.5 101.8L275.1 101.0L275.6 100.3L276.2 99.7L276.9 99.1L277.6 98.5L279.2 98.8L279.8 99.9L281.4 100.2L281.3 100.8L281.3 101.4L281.3 102.0L280.9 102.6L280.5 103.2L280.1 103.8L280.4 104.4L280.6 105.0L280.0 105.5L279.4 106.1L278.7 106.4L277.9 106.7L275.9 106.8L274.9 107.1ZM279.3 100.5L279.3 99.9L279.3 99.4L279.8 98.7L280.3 98.1L280.8 97.5L281.3 96.9L281.9 96.7L282.6 96.4L283.7 97.5L284.7 98.5L285.0 99.4L284.8 99.9L284.5 100.4L284.3 100.9L284.1 101.4L283.1 101.6L282.2 101.9L281.7 101.2L281.2 100.5L280.3 100.5ZM277.1 109.6L276.9 109.1L276.8 108.6L277.4 108.1L278.0 107.6L278.7 107.1L280.2 107.9L280.3 108.5L280.4 109.1L280.1 109.5L279.8 110.0L278.5 109.8ZM277.5 112.9L277.4 112.4L277.4 111.8L277.3 111.3L278.9 110.8L280.7 111.2L280.6 111.7L280.5 112.2L280.4 112.7L279.0 112.8ZM281.6 117.6L281.5 117.2L281.3 116.7L281.1 116.2L281.2 115.6L281.2 115.1L281.3 114.5L281.4 114.0L281.6 113.4L281.8 112.9L282.1 112.3L284.4 112.4L284.5 113.0L284.6 113.5L284.5 114.0L284.4 114.5L284.4 115.0L284.4 115.5L284.5 116.0L284.5 116.4L284.6 116.9L283.0 117.8ZM284.9 117.6L285.1 117.0L285.3 116.4L285.5 115.9L285.7 115.4L285.9 115.0L286.1 114.5L286.5 114.2L286.8 113.8L289.2 113.4L289.9 113.0L290.5 112.6L291.4 113.0L292.4 113.4L292.7 113.7L293.0 114.0L293.3 114.4L293.6 114.6L293.9 114.9L294.2 115.2L294.6 115.4L294.9 115.7L295.0 115.9L295.1 116.2L295.3 116.4L295.4 116.6L295.6 116.9L295.5 117.2L295.4 117.6L295.4 117.9L295.3 118.3L295.2 118.7L295.0 119.1L294.4 119.1L293.7 119.0L293.1 119.0L292.5 118.9L291.9 118.8L291.2 118.6L290.6 118.4L290.0 118.2L289.5 117.9L289.0 117.6L287.7 117.7L287.0 118.2L286.3 118.7L285.9 118.4L285.4 118.0ZM287.3 113.2L287.6 112.7L287.8 112.2L288.5 111.9L289.1 111.5L290.7 111.6L291.3 112.0L291.9 112.4L291.4 112.8L290.8 113.2L290.1 113.4L289.4 113.7L288.3 113.5ZM282.8 107.0L282.8 106.4L282.9 105.8L282.9 105.3L282.9 104.6L283.0 103.9L283.5 103.5L284.0 103.0L284.5 102.5L286.4 103.1L286.4 103.5L286.3 104.0L286.3 104.5L286.1 104.9L285.9 105.4L285.7 105.8L285.2 106.2L284.6 106.7L284.3 107.0L284.1 107.3ZM281.9 110.2L282.2 109.7L282.5 109.2L282.8 108.7L283.7 108.4L284.5 108.2L284.8 108.9L285.1 109.5L284.8 109.8L284.5 110.2L283.2 110.4ZM285.3 111.0L285.5 110.5L285.7 110.1L285.9 109.6L286.2 109.2L286.4 108.8L286.6 108.4L287.5 108.2L288.3 108.1L288.4 107.7L288.5 107.2L288.6 106.7L288.7 106.2L287.9 106.3L287.2 106.4L286.9 106.8L286.6 107.3L286.3 107.7L286.0 108.2L285.7 108.6L285.3 109.0L285.0 109.4L284.7 109.8L285.0 110.4ZM280.9 66.2L281.7 65.3L282.5 64.3L283.3 65.8L282.9 66.6L282.5 67.3ZM293.4 54.6L292.5 55.3L291.6 56.1L290.7 56.8L291.5 56.0L292.4 55.2ZM318.1 198.4L318.0 196.5L317.8 194.7L318.9 194.0L320.0 195.1L320.1 197.7L319.3 198.2ZM318.0 193.7L317.8 191.5L318.6 190.6L319.1 192.4L318.8 193.6Z" fill="#ffffff" stroke="#3c3c3c" stroke-width="0.55" stroke-linejoin="round"/>
<path d="M361.0 164.6L360.2 163.0L359.6 161.6L360.3 160.2L360.7 158.9L361.1 157.6L361.9 156.8L362.7 156.0L363.9 156.6L363.9 158.1L363.9 159.7L364.8 160.6L366.6 160.8L368.4 161.0L370.0 162.1L371.2 162.8L372.9 162.1L374.2 163.8L374.6 164.6L376.3 165.2L378.0 165.8L377.5 167.3L376.9 168.7L375.6 169.5L374.3 170.3L373.0 171.2L371.6 170.5L370.6 169.3L369.6 168.0L370.2 166.4L369.0 167.0L366.3 166.7L364.1 166.0L362.5 165.3Z" fill="#ddd3dc" stroke="#3c3c3c" stroke-width="0.55" stroke-linejoin="round"/>
<path d="M296.34 113.15a9.46 9.46 0 1 0 18.92 0a9.46 9.46 0 1 0 -18.92 0M286.83 113.15a18.97 18.97 0 1 0 37.94 0a18.97 18.97 0 1 0 -37.94 0M277.21 113.15a28.59 28.59 0 1 0 57.18 0a28.59 28.59 0 1 0 -57.18 0M267.43 113.15a38.37 38.37 0 1 0 76.73 0a38.37 38.37 0 1 0 -76.73 0M257.44 113.15a48.36 48.36 0 1 0 96.73 0a48.36 48.36 0 1 0 -96.73 0M247.15 113.15a58.65 58.65 0 1 0 117.30 0a58.65 58.65 0 1 0 -117.30 0M236.51 113.15a69.29 69.29 0 1 0 138.57 0a69.29 69.29 0 1 0 -138.57 0M305.80 113.15L305.80 217.36M305.80 113.15L396.05 165.26M305.80 113.15L396.05 61.04M305.80 113.15L305.80 8.94M305.80 113.15L215.55 61.04M305.80 113.15L215.55 165.26" fill="none" stroke="#6a6a6a" stroke-width="0.7" stroke-dasharray="2.4 1.2"/>
</g>
<circle cx="305.80" cy="113.15" r="76.00" fill="none" stroke="#4a4a4a" stroke-width="0.85"/>
<circle cx="471.40" cy="113.20" r="75.75" fill="url(#gsB)"/>
<g clip-path="url(#cs)">
<circle cx="471.40" cy="113.20" r="75.75" fill="url(#gsP)" mask="url(#msP)"/>
<path d="M471.4 134.2L470.9 134.2L470.4 134.1L469.8 134.1L469.3 134.0L468.8 133.9L468.3 133.8L467.8 133.7L467.3 133.7L466.8 133.6L466.2 133.6L465.7 133.5L465.2 133.5L464.7 133.6L464.1 133.8L463.6 133.9L463.0 134.0L462.7 133.1L462.5 132.2L461.8 132.6L461.1 133.0L460.3 133.4L459.5 133.7L458.8 133.9L458.1 134.0L457.3 134.1L456.6 134.0L455.8 133.9L455.1 133.8L454.3 133.6L453.6 133.5L453.0 133.3L452.3 133.1L451.7 132.9L451.2 132.6L450.7 132.2L450.2 131.8L449.7 131.4L449.2 131.0L448.6 130.7L448.1 130.3L447.5 129.9L447.2 129.4L446.9 128.8L446.7 128.2L446.4 127.6L446.3 127.0L446.1 126.4L445.9 125.8L445.8 125.1L445.6 124.5L445.5 123.9L445.3 123.3L445.2 122.7L444.5 122.3L443.9 121.9L443.3 121.4L442.7 120.9L442.4 120.3L442.1 119.7L441.8 119.1L441.6 118.5L441.3 117.8L441.0 117.2L440.8 116.6L440.5 115.9L440.6 115.2L440.6 114.5L440.7 113.9L440.8 113.2L441.0 112.5L441.2 111.9L441.4 111.2L441.6 110.6L441.7 109.9L441.8 109.3L442.0 108.7L442.1 108.0L441.4 107.1L440.7 106.1L439.5 105.0L438.4 103.7L437.6 102.7L436.8 101.6L435.3 100.1L434.0 98.5L432.1 96.5L431.3 95.4L430.6 94.2L430.2 92.9L429.9 91.6L429.8 90.4L429.6 89.2L429.5 88.0L430.1 87.4L430.8 86.8L431.5 88.8L432.1 90.0L432.7 91.3L434.2 93.2L435.6 94.9L437.7 96.4L440.2 96.8L442.9 97.6L445.4 98.8L446.9 99.9L447.4 100.9L448.9 101.2L449.3 100.7L449.8 100.2L450.9 100.2L452.0 100.1L452.7 100.0L453.4 99.8L454.1 99.7L454.5 99.3L454.9 98.9L455.3 98.5L455.8 98.1L456.1 97.7L456.5 97.2L456.9 96.8L457.3 96.4L457.4 95.7L457.5 95.0L457.7 94.3L457.5 92.9L457.3 91.5L457.7 91.1L458.1 90.7L458.5 90.2L459.0 89.9L459.2 88.6L459.4 87.4L459.8 86.9L460.3 86.3L460.7 85.8L461.2 85.3L461.8 84.7L462.3 84.1L462.9 83.6L463.4 82.7L464.0 81.8L464.5 80.9L465.2 80.5L465.9 80.0L466.7 79.6L467.4 79.3L468.2 79.0L469.0 78.8L469.8 78.4L470.6 78.1L471.4 77.8L472.2 77.7L473.0 77.5L473.7 77.5L474.5 77.4L475.3 77.5L476.1 77.5L476.9 77.7L477.6 77.8L478.4 77.9L479.2 78.0L480.0 78.1L480.8 78.3L481.5 78.5L482.2 78.8L483.0 79.1L483.7 79.4L484.4 79.8L485.1 80.1L485.8 80.5L486.4 80.9L487.2 81.1L488.0 81.2L488.9 81.4L489.7 81.6L490.7 81.8L491.7 82.0L492.5 82.5L493.3 83.1L493.6 83.7L493.9 84.4L494.8 84.2L495.8 84.1L497.1 84.2L498.3 84.3L499.3 84.7L500.3 85.0L501.2 85.4L502.4 85.8L503.5 86.3L505.0 86.5L506.5 86.8L506.6 87.6L506.6 88.5L506.6 89.9L506.5 91.3L506.7 92.4L506.9 93.5L507.2 94.4L507.6 95.3L507.9 96.2L508.2 97.2L508.5 98.2L507.3 99.8L506.2 100.9L504.9 102.2L505.1 102.7L505.4 103.1L507.2 103.6L507.5 104.2L507.9 104.8L508.9 105.2L510.0 105.7L510.7 106.5L511.4 107.2L512.0 108.0L512.6 108.8L513.1 109.5L513.6 110.6L514.0 111.7L514.0 112.8L514.0 113.9L514.3 115.1L514.5 116.2L514.4 117.3L514.3 118.5L514.5 119.6L514.7 120.8L514.6 122.0L514.6 123.2L513.9 124.0L513.1 124.9L512.4 125.7L512.0 126.8L511.6 127.8L511.5 129.0L511.3 130.2L510.3 130.9L509.2 131.6L508.6 132.5L507.9 133.4L507.7 134.6L507.4 135.7L507.0 136.6L506.6 137.6L506.2 138.5L505.7 139.3L505.1 140.2L504.5 141.0L503.8 141.7L503.2 142.5L502.5 143.2L501.5 143.9L500.6 144.5L499.6 145.1L498.6 145.6L497.5 146.1L496.5 146.5L495.3 146.8L494.2 147.0L492.9 146.9L491.5 146.7L490.5 146.9L489.4 147.1L488.3 147.1L487.2 147.1L486.2 147.3L485.2 147.4L484.2 146.9L483.2 146.4L482.5 146.3L481.8 146.3L481.0 146.0L480.1 145.8L479.2 145.6L478.2 145.3L477.6 145.3L477.0 145.2L476.5 143.8L476.8 142.4L477.5 141.7L478.0 140.9L478.5 139.6L478.8 138.0L478.6 136.4L477.8 134.9L477.0 134.2L476.3 133.6L475.9 133.7L475.5 133.8L475.0 133.9L474.6 133.9L474.1 133.8L473.7 133.8L473.2 133.8L472.8 133.9L472.3 134.0L471.9 134.1L471.4 134.2Z" fill="none" stroke="#c8886c" stroke-width="1.5" stroke-linejoin="round" stroke-opacity="0.7"/>
<path d="M344.0 84.5L344.4 82.7L344.9 80.7L345.6 78.3L346.2 76.1L346.8 73.9L347.3 72.4L347.7 71.3L348.7 68.5L349.9 65.3L351.0 62.7L352.1 60.1L353.0 58.0L354.0 55.9L355.0 53.9L356.1 51.9L357.2 49.9L358.3 47.9L360.0 45.0L361.9 42.1L363.1 40.2L364.4 38.3L365.7 36.4L367.1 34.6L369.2 31.9L369.9 31.0L370.6 30.1L371.4 29.3L372.1 28.4L374.3 25.8L375.9 24.1L377.5 22.5L379.9 20.0L381.9 18.1L384.0 16.1L385.7 14.6L387.5 13.2L390.1 11.0L392.8 8.9L394.4 7.7L395.9 6.6L396.3 6.4L396.7 6.1L396.5 6.2L393.7 8.2L391.9 9.6L389.2 11.7L389.2 11.7L389.2 11.7L389.2 11.7L388.3 12.4L387.5 13.2L386.6 13.9L385.7 14.6L384.0 16.1L381.9 18.1L379.9 20.0L378.2 21.7L376.7 23.3L375.3 26.7L377.1 29.2L379.0 31.7L380.5 35.6L381.5 39.9L382.5 44.3L383.8 48.4L383.9 51.7L383.0 52.9L382.0 54.0L380.3 55.0L378.6 56.1L381.3 57.3L384.4 56.7L385.7 58.2L387.0 59.6L386.8 61.4L386.6 63.2L385.7 65.2L384.9 67.2L386.3 68.2L387.7 69.3L388.0 71.6L386.7 73.7L390.0 74.4L390.9 73.4L391.6 76.0L394.1 78.0L394.4 79.5L394.6 81.1L395.8 81.9L398.2 80.6L399.3 82.4L400.5 84.1L402.5 86.1L404.7 87.7L406.5 87.6L408.2 88.1L410.0 87.6L411.8 87.3L412.7 86.2L412.6 87.2L412.6 88.3L412.2 89.6L411.8 90.9L410.3 91.6L408.8 92.3L407.5 92.9L406.1 93.5L404.3 94.7L401.8 94.5L399.2 94.3L397.2 93.9L395.2 93.5L392.6 91.3L390.5 91.0L388.4 90.7L386.5 88.2L384.6 87.7L382.8 87.3L380.8 86.4L378.7 85.6L376.6 85.0L374.5 84.5L372.6 83.1L370.6 81.6L368.2 80.0L365.7 78.3L362.5 76.9L359.2 75.4L357.0 74.5L354.8 73.5L351.5 71.7L348.2 69.8L348.3 69.5L348.4 69.2L348.5 69.1L348.5 69.0L348.5 69.0L347.7 71.3L346.8 73.9L346.0 76.7L345.3 79.4L344.9 80.8L344.5 82.3L344.3 83.3L344.0 84.3L343.8 85.4L343.6 86.5L343.3 87.9L343.0 89.4L342.7 91.1L342.4 92.8L342.3 93.2L342.7 91.2L342.8 90.5L342.5 92.3L342.7 91.2L342.8 90.5L343.2 88.1L343.8 85.2L344.0 84.3L344.0 84.5L343.9 84.7L343.7 85.8ZM483.4 206.9L482.4 205.3L480.7 204.6L481.0 203.3L482.6 200.8L482.1 200.0L484.1 198.4L484.7 195.4L486.5 193.4L487.8 193.1L489.1 193.3L490.5 193.4L490.8 194.1L490.2 196.0L489.6 197.9L488.2 198.8L487.2 200.0L486.1 201.1L485.1 203.9L484.3 204.9L484.3 206.0ZM542.3 85.7L543.2 86.6L544.0 87.5L542.2 87.8L541.7 86.5ZM430.4 60.7L431.3 60.2L432.2 59.6L433.4 60.5L432.3 60.7L431.3 61.0ZM408.1 78.5L408.8 77.4L409.6 76.2L410.3 75.1L411.5 75.5L411.3 76.6L411.1 77.7L409.5 78.9ZM471.4 134.2L470.9 134.2L470.4 134.1L469.8 134.1L469.3 134.0L468.8 133.9L468.3 133.8L467.8 133.7L467.3 133.7L466.8 133.6L466.2 133.6L465.7 133.5L465.2 133.5L464.7 133.6L464.1 133.8L463.6 133.9L463.0 134.0L462.7 133.1L462.5 132.2L461.8 132.6L461.1 133.0L460.3 133.4L459.5 133.7L458.8 133.9L458.1 134.0L457.3 134.1L456.6 134.0L455.8 133.9L455.1 133.8L454.3 133.6L453.6 133.5L453.0 133.3L452.3 133.1L451.7 132.9L451.2 132.6L450.7 132.2L450.2 131.8L449.7 131.4L449.2 131.0L448.6 130.7L448.1 130.3L447.5 129.9L447.2 129.4L446.9 128.8L446.7 128.2L446.4 127.6L446.3 127.0L446.1 126.4L445.9 125.8L445.8 125.1L445.6 124.5L445.5 123.9L445.3 123.3L445.2 122.7L444.5 122.3L443.9 121.9L443.3 121.4L442.7 120.9L442.4 120.3L442.1 119.7L441.8 119.1L441.6 118.5L441.3 117.8L441.0 117.2L440.8 116.6L440.5 115.9L440.6 115.2L440.6 114.5L440.7 113.9L440.8 113.2L441.0 112.5L441.2 111.9L441.4 111.2L441.6 110.6L441.7 109.9L441.8 109.3L442.0 108.7L442.1 108.0L441.4 107.1L440.7 106.1L439.5 105.0L438.4 103.7L437.6 102.7L436.8 101.6L435.3 100.1L434.0 98.5L432.1 96.5L431.3 95.4L430.6 94.2L430.2 92.9L429.9 91.6L429.8 90.4L429.6 89.2L429.5 88.0L430.1 87.4L430.8 86.8L431.5 88.8L432.1 90.0L432.7 91.3L434.2 93.2L435.6 94.9L437.7 96.4L440.2 96.8L442.9 97.6L445.4 98.8L446.9 99.9L447.4 100.9L448.9 101.2L449.3 100.7L449.8 100.2L450.9 100.2L452.0 100.1L452.7 100.0L453.4 99.8L454.1 99.7L454.5 99.3L454.9 98.9L455.3 98.5L455.8 98.1L456.1 97.7L456.5 97.2L456.9 96.8L457.3 96.4L457.4 95.7L457.5 95.0L457.7 94.3L457.5 92.9L457.3 91.5L457.7 91.1L458.1 90.7L458.5 90.2L459.0 89.9L459.2 88.6L459.4 87.4L459.8 86.9L460.3 86.3L460.7 85.8L461.2 85.3L461.8 84.7L462.3 84.1L462.9 83.6L463.4 82.7L464.0 81.8L464.5 80.9L465.2 80.5L465.9 80.0L466.7 79.6L467.4 79.3L468.2 79.0L469.0 78.8L469.8 78.4L470.6 78.1L471.4 77.8L472.2 77.7L473.0 77.5L473.7 77.5L474.5 77.4L475.3 77.5L476.1 77.5L476.9 77.7L477.6 77.8L478.4 77.9L479.2 78.0L480.0 78.1L480.8 78.3L481.5 78.5L482.2 78.8L483.0 79.1L483.7 79.4L484.4 79.8L485.1 80.1L485.8 80.5L486.4 80.9L487.2 81.1L488.0 81.2L488.9 81.4L489.7 81.6L490.7 81.8L491.7 82.0L492.5 82.5L493.3 83.1L493.6 83.7L493.9 84.4L494.8 84.2L495.8 84.1L497.1 84.2L498.3 84.3L499.3 84.7L500.3 85.0L501.2 85.4L502.4 85.8L503.5 86.3L505.0 86.5L506.5 86.8L506.6 87.6L506.6 88.5L506.6 89.9L506.5 91.3L506.7 92.4L506.9 93.5L507.2 94.4L507.6 95.3L507.9 96.2L508.2 97.2L508.5 98.2L507.3 99.8L506.2 100.9L504.9 102.2L505.1 102.7L505.4 103.1L507.2 103.6L507.5 104.2L507.9 104.8L508.9 105.2L510.0 105.7L510.7 106.5L511.4 107.2L512.0 108.0L512.6 108.8L513.1 109.5L513.6 110.6L514.0 111.7L514.0 112.8L514.0 113.9L514.3 115.1L514.5 116.2L514.4 117.3L514.3 118.5L514.5 119.6L514.7 120.8L514.6 122.0L514.6 123.2L513.9 124.0L513.1 124.9L512.4 125.7L512.0 126.8L511.6 127.8L511.5 129.0L511.3 130.2L510.3 130.9L509.2 131.6L508.6 132.5L507.9 133.4L507.7 134.6L507.4 135.7L507.0 136.6L506.6 137.6L506.2 138.5L505.7 139.3L505.1 140.2L504.5 141.0L503.8 141.7L503.2 142.5L502.5 143.2L501.5 143.9L500.6 144.5L499.6 145.1L498.6 145.6L497.5 146.1L496.5 146.5L495.3 146.8L494.2 147.0L492.9 146.9L491.5 146.7L490.5 146.9L489.4 147.1L488.3 147.1L487.2 147.1L486.2 147.3L485.2 147.4L484.2 146.9L483.2 146.4L482.5 146.3L481.8 146.3L481.0 146.0L480.1 145.8L479.2 145.6L478.2 145.3L477.6 145.3L477.0 145.2L476.5 143.8L476.8 142.4L477.5 141.7L478.0 140.9L478.5 139.6L478.8 138.0L478.6 136.4L477.8 134.9L477.0 134.2L476.3 133.6L475.9 133.7L475.5 133.8L475.0 133.9L474.6 133.9L474.1 133.8L473.7 133.8L473.2 133.8L472.8 133.9L472.3 134.0L471.9 134.1L471.4 134.2Z" fill="#ffffff" stroke="#3c3c3c" stroke-width="0.55" stroke-linejoin="round"/>
<path d="M460.66 113.20a10.74 10.74 0 1 0 21.49 0a10.74 10.74 0 1 0 -21.49 0M449.85 113.20a21.55 21.55 0 1 0 43.09 0a21.55 21.55 0 1 0 -43.09 0M438.93 113.20a32.47 32.47 0 1 0 64.94 0a32.47 32.47 0 1 0 -64.94 0M427.83 113.20a43.57 43.57 0 1 0 87.15 0a43.57 43.57 0 1 0 -87.15 0M416.47 113.20a54.93 54.93 0 1 0 109.86 0a54.93 54.93 0 1 0 -109.86 0M404.79 113.20a66.61 66.61 0 1 0 133.22 0a66.61 66.61 0 1 0 -133.22 0M471.40 113.20L471.40 -5.16M471.40 113.20L573.90 54.02M471.40 113.20L573.90 172.38M471.40 113.20L471.40 231.56M471.40 113.20L368.90 172.38M471.40 113.20L368.90 54.02" fill="none" stroke="#6a6a6a" stroke-width="0.7" stroke-dasharray="2.4 1.2"/>
</g>
<circle cx="471.40" cy="113.20" r="75.75" fill="none" stroke="#4a4a4a" stroke-width="0.85"/>
<rect x="80.10" y="223.00" width="368.00" height="18.60" fill="url(#gcb)" stroke="#222" stroke-width="0.5" stroke-opacity="0.7"/>
<path d="M80.10 241.60v1.6M126.10 241.60v1.6M172.10 241.60v1.6M218.10 241.60v1.6M264.10 241.60v1.6M310.10 241.60v1.6M356.10 241.60v1.6M402.10 241.60v1.6M448.10 241.60v1.6" stroke="#333" stroke-width="0.6"/>
<g font-family="DejaVu Sans, Liberation Sans, sans-serif" font-size="10.7" text-anchor="middle" fill="#262626"><text x="80.10" y="252.8">−2.0</text><text x="126.10" y="252.8">−1.5</text><text x="172.10" y="252.8">−1.0</text><text x="218.10" y="252.8">−0.5</text><text x="264.10" y="252.8">0.0</text><text x="310.10" y="252.8">0.5</text><text x="356.10" y="252.8">1.0</text><text x="402.10" y="252.8">1.5</text><text x="448.10" y="252.8">2.0</text></g>
<g font-family="DejaVu Sans, Liberation Sans, sans-serif" font-size="13.0" text-anchor="middle" fill="#111"><text x="255.0" y="12.4">Temperature,</text><text x="255.1" y="26.8">NN, regular, 1326 sensors</text></g>
</svg>
</body></html>
